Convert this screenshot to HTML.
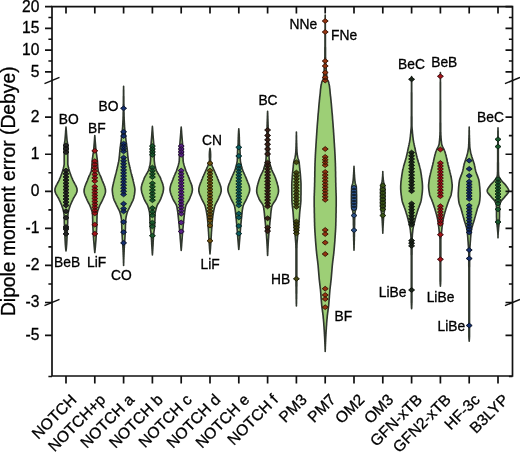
<!DOCTYPE html><html><head><meta charset="utf-8"><style>html,body{margin:0;padding:0;background:#fff;}svg{display:block}</style></head><body><svg width="520" height="452" viewBox="0 0 520 452">
<rect width="520" height="452" fill="#fff"/>
<path d="M66.0,127.0 66.0,127.6 66.1,128.2 66.1,128.8 66.2,129.4 66.2,130.0 66.3,130.6 66.3,131.2 66.4,131.8 66.4,132.4 66.4,133.0 66.5,133.6 66.5,134.2 66.6,134.8 66.6,135.4 66.7,136.0 66.7,136.6 66.8,137.2 66.8,137.8 66.9,138.4 66.9,139.0 67.0,139.6 67.0,140.2 67.1,140.8 67.2,141.4 67.3,142.0 67.4,142.6 67.5,143.2 67.6,143.8 67.7,144.4 67.9,145.0 67.9,145.6 68.0,146.2 68.1,146.8 68.1,147.4 68.1,148.0 68.1,148.6 68.1,149.2 68.0,149.8 68.0,150.4 68.0,151.0 68.0,151.6 67.9,152.2 67.9,152.8 67.9,153.4 67.8,154.0 67.8,154.6 67.8,155.2 67.8,155.8 67.8,156.4 67.8,157.0 67.8,157.6 67.8,158.2 67.8,158.8 67.8,159.4 67.8,160.0 67.8,160.6 67.8,161.2 67.8,161.8 67.8,162.4 67.8,163.0 67.8,163.6 67.8,164.2 67.9,164.8 68.0,165.4 68.1,166.0 68.2,166.6 68.4,167.2 68.5,167.8 68.7,168.4 68.8,169.0 69.0,169.6 69.2,170.2 69.3,170.8 69.5,171.4 69.7,172.0 69.9,172.6 70.1,173.2 70.3,173.8 70.5,174.4 70.8,175.0 71.0,175.6 71.3,176.2 71.5,176.8 71.8,177.4 72.0,178.0 72.3,178.6 72.5,179.2 72.7,179.8 73.0,180.4 73.3,181.0 73.6,181.6 73.9,182.2 74.2,182.8 74.6,183.4 74.9,184.0 75.2,184.6 75.6,185.2 75.9,185.8 76.1,186.4 76.4,187.0 76.6,187.6 76.8,188.2 77.0,188.8 77.0,189.4 77.1,190.0 77.1,190.6 77.0,191.2 76.9,191.8 76.7,192.4 76.4,193.0 76.2,193.6 75.9,194.2 75.5,194.8 75.2,195.4 74.8,196.0 74.5,196.6 74.1,197.2 73.8,197.8 73.4,198.4 73.1,199.0 72.9,199.6 72.6,200.2 72.3,200.8 72.0,201.4 71.7,202.0 71.5,202.6 71.2,203.2 70.9,203.8 70.7,204.4 70.4,205.0 70.2,205.6 70.0,206.2 69.8,206.8 69.6,207.4 69.4,208.0 69.2,208.6 69.0,209.2 68.9,209.8 68.7,210.4 68.6,211.0 68.4,211.6 68.3,212.2 68.2,212.8 68.1,213.4 68.0,214.0 67.9,214.6 67.9,215.2 67.9,215.8 67.8,216.4 67.8,217.0 67.8,217.6 67.8,218.2 67.8,218.8 67.7,219.4 67.7,220.0 67.7,220.6 67.7,221.2 67.7,221.8 67.7,222.4 67.7,223.0 67.6,223.6 67.6,224.2 67.6,224.8 67.6,225.4 67.6,226.0 67.5,226.6 67.5,227.2 67.5,227.8 67.4,228.4 67.4,229.0 67.4,229.6 67.4,230.2 67.3,230.8 67.3,231.4 67.3,232.0 67.2,232.6 67.2,233.2 67.2,233.8 67.1,234.4 67.1,235.0 67.1,235.6 67.0,236.2 67.0,236.8 67.0,237.4 67.0,238.0 66.9,238.6 66.9,239.2 66.9,239.8 66.9,240.4 66.8,241.0 66.8,241.6 66.8,242.2 66.7,242.8 66.7,243.4 66.7,244.0 66.6,244.6 66.6,245.2 66.5,245.8 66.5,246.4 66.4,247.0 66.4,247.6 66.3,248.2 66.3,248.8 66.2,249.4 66.1,250.0 66.0,250.6 66.0,251.0 L66.0,251.0 66.0,250.6 65.9,250.0 65.8,249.4 65.7,248.8 65.7,248.2 65.6,247.6 65.6,247.0 65.5,246.4 65.5,245.8 65.4,245.2 65.4,244.6 65.3,244.0 65.3,243.4 65.3,242.8 65.2,242.2 65.2,241.6 65.2,241.0 65.1,240.4 65.1,239.8 65.1,239.2 65.1,238.6 65.0,238.0 65.0,237.4 65.0,236.8 65.0,236.2 64.9,235.6 64.9,235.0 64.9,234.4 64.8,233.8 64.8,233.2 64.8,232.6 64.7,232.0 64.7,231.4 64.7,230.8 64.6,230.2 64.6,229.6 64.6,229.0 64.6,228.4 64.5,227.8 64.5,227.2 64.5,226.6 64.4,226.0 64.4,225.4 64.4,224.8 64.4,224.2 64.4,223.6 64.3,223.0 64.3,222.4 64.3,221.8 64.3,221.2 64.3,220.6 64.3,220.0 64.3,219.4 64.2,218.8 64.2,218.2 64.2,217.6 64.2,217.0 64.2,216.4 64.1,215.8 64.1,215.2 64.1,214.6 64.0,214.0 63.9,213.4 63.8,212.8 63.7,212.2 63.6,211.6 63.4,211.0 63.3,210.4 63.1,209.8 63.0,209.2 62.8,208.6 62.6,208.0 62.4,207.4 62.2,206.8 62.0,206.2 61.8,205.6 61.6,205.0 61.3,204.4 61.1,203.8 60.8,203.2 60.5,202.6 60.3,202.0 60.0,201.4 59.7,200.8 59.4,200.2 59.1,199.6 58.9,199.0 58.6,198.4 58.2,197.8 57.9,197.2 57.5,196.6 57.2,196.0 56.8,195.4 56.5,194.8 56.1,194.2 55.8,193.6 55.6,193.0 55.3,192.4 55.1,191.8 55.0,191.2 54.9,190.6 54.9,190.0 55.0,189.4 55.0,188.8 55.2,188.2 55.4,187.6 55.6,187.0 55.9,186.4 56.1,185.8 56.4,185.2 56.8,184.6 57.1,184.0 57.4,183.4 57.8,182.8 58.1,182.2 58.4,181.6 58.7,181.0 59.0,180.4 59.3,179.8 59.5,179.2 59.7,178.6 60.0,178.0 60.2,177.4 60.5,176.8 60.7,176.2 61.0,175.6 61.2,175.0 61.5,174.4 61.7,173.8 61.9,173.2 62.1,172.6 62.3,172.0 62.5,171.4 62.7,170.8 62.8,170.2 63.0,169.6 63.2,169.0 63.3,168.4 63.5,167.8 63.6,167.2 63.8,166.6 63.9,166.0 64.0,165.4 64.1,164.8 64.2,164.2 64.2,163.6 64.2,163.0 64.2,162.4 64.2,161.8 64.2,161.2 64.2,160.6 64.2,160.0 64.2,159.4 64.2,158.8 64.2,158.2 64.2,157.6 64.2,157.0 64.2,156.4 64.2,155.8 64.2,155.2 64.2,154.6 64.2,154.0 64.1,153.4 64.1,152.8 64.1,152.2 64.0,151.6 64.0,151.0 64.0,150.4 64.0,149.8 63.9,149.2 63.9,148.6 63.9,148.0 63.9,147.4 63.9,146.8 64.0,146.2 64.1,145.6 64.1,145.0 64.3,144.4 64.4,143.8 64.5,143.2 64.6,142.6 64.7,142.0 64.8,141.4 64.9,140.8 65.0,140.2 65.0,139.6 65.1,139.0 65.1,138.4 65.2,137.8 65.2,137.2 65.3,136.6 65.3,136.0 65.4,135.4 65.4,134.8 65.5,134.2 65.5,133.6 65.6,133.0 65.6,132.4 65.6,131.8 65.7,131.2 65.7,130.6 65.8,130.0 65.8,129.4 65.9,128.8 65.9,128.2 66.0,127.6 66.0,127.0Z" fill="#9dcf76" stroke="#30372e" stroke-width="1.65" stroke-linejoin="round"/>
<path d="M66.0,142.9L69.0,145.3L66.0,147.7L63.0,145.3ZM66.0,146.3L69.0,148.8L66.0,151.2L63.0,148.8ZM66.0,149.8L69.0,152.2L66.0,154.6L63.0,152.2ZM66.0,168.2L69.0,170.6L66.0,173.0L63.0,170.6ZM66.0,171.4L69.0,173.8L66.0,176.2L63.0,173.8ZM66.0,174.5L69.0,176.9L66.0,179.3L63.0,176.9ZM66.0,177.7L69.0,180.1L66.0,182.5L63.0,180.1ZM66.0,180.9L69.0,183.3L66.0,185.7L63.0,183.3ZM66.0,184.0L69.0,186.4L66.0,188.8L63.0,186.4ZM66.0,187.2L69.0,189.6L66.0,192.0L63.0,189.6ZM66.0,190.3L69.0,192.7L66.0,195.1L63.0,192.7ZM66.0,193.5L69.0,195.9L66.0,198.3L63.0,195.9ZM66.0,196.7L69.0,199.1L66.0,201.5L63.0,199.1ZM66.0,199.8L69.0,202.2L66.0,204.6L63.0,202.2ZM66.0,203.0L69.0,205.4L66.0,207.8L63.0,205.4ZM66.0,208.8L69.0,211.2L66.0,213.7L63.0,211.2ZM66.0,215.3L69.0,217.7L66.0,220.1L63.0,217.7ZM66.0,224.6L69.0,227.0L66.0,229.4L63.0,227.0ZM66.0,226.6L69.0,229.0L66.0,231.4L63.0,229.0ZM66.0,231.5L69.0,233.9L66.0,236.3L63.0,233.9Z" fill="#262626" stroke="#0d0d0d" stroke-width="0.9" stroke-linejoin="miter"/>
<path d="M94.8,135.5 94.8,136.1 94.9,136.7 94.9,137.3 95.0,137.9 95.0,138.5 95.0,139.1 95.1,139.7 95.1,140.3 95.2,140.9 95.2,141.5 95.3,142.1 95.3,142.7 95.4,143.3 95.4,143.9 95.5,144.5 95.5,145.1 95.6,145.7 95.6,146.3 95.7,146.9 95.7,147.5 95.8,148.1 95.8,148.7 95.9,149.3 96.0,149.9 96.0,150.5 96.1,151.1 96.2,151.7 96.2,152.3 96.3,152.9 96.4,153.5 96.5,154.1 96.6,154.7 96.7,155.3 96.8,155.9 96.8,156.5 96.9,157.1 97.0,157.7 97.1,158.3 97.2,158.9 97.2,159.5 97.3,160.1 97.4,160.7 97.4,161.3 97.5,161.9 97.5,162.5 97.5,163.1 97.6,163.7 97.6,164.3 97.6,164.9 97.7,165.5 97.7,166.1 97.7,166.7 97.8,167.3 97.8,167.9 97.9,168.5 98.0,169.1 98.1,169.7 98.2,170.3 98.3,170.9 98.5,171.5 98.7,172.1 99.0,172.7 99.2,173.3 99.5,173.9 99.7,174.5 100.0,175.1 100.3,175.7 100.6,176.3 100.8,176.9 101.1,177.5 101.3,178.1 101.5,178.7 101.8,179.3 102.0,179.9 102.2,180.5 102.5,181.1 102.7,181.7 103.0,182.3 103.2,182.9 103.5,183.5 103.8,184.1 104.0,184.7 104.2,185.3 104.5,185.9 104.7,186.5 104.9,187.1 105.0,187.7 105.2,188.3 105.3,188.9 105.4,189.5 105.5,190.1 105.5,190.7 105.5,191.3 105.5,191.9 105.4,192.5 105.2,193.1 105.1,193.7 104.9,194.3 104.7,194.9 104.5,195.5 104.2,196.1 104.0,196.7 103.7,197.3 103.4,197.9 103.2,198.5 102.9,199.1 102.6,199.7 102.4,200.3 102.1,200.9 101.8,201.5 101.5,202.1 101.2,202.7 100.9,203.3 100.5,203.9 100.2,204.5 99.9,205.1 99.6,205.7 99.4,206.3 99.2,206.9 98.9,207.5 98.7,208.1 98.5,208.7 98.3,209.3 98.0,209.9 97.8,210.5 97.7,211.1 97.5,211.7 97.4,212.3 97.2,212.9 97.2,213.5 97.1,214.1 97.1,214.7 97.0,215.3 97.0,215.9 97.0,216.5 97.0,217.1 97.0,217.7 97.0,218.3 96.9,218.9 96.9,219.5 96.9,220.1 96.9,220.7 96.9,221.3 96.9,221.9 96.9,222.5 96.9,223.1 96.8,223.7 96.8,224.3 96.8,224.9 96.8,225.5 96.8,226.1 96.7,226.7 96.7,227.3 96.7,227.9 96.6,228.5 96.6,229.1 96.6,229.7 96.5,230.3 96.5,230.9 96.5,231.5 96.4,232.1 96.4,232.7 96.4,233.3 96.3,233.9 96.3,234.5 96.2,235.1 96.2,235.7 96.2,236.3 96.1,236.9 96.1,237.5 96.0,238.1 96.0,238.7 96.0,239.3 95.9,239.9 95.9,240.5 95.8,241.1 95.8,241.7 95.7,242.3 95.7,242.9 95.6,243.5 95.6,244.1 95.5,244.7 95.5,245.3 95.4,245.9 95.4,246.5 95.3,247.1 95.3,247.7 95.2,248.3 95.2,248.9 95.1,249.5 95.0,250.1 95.0,250.7 94.9,251.3 94.9,251.9 94.8,252.5 L94.8,252.5 94.7,251.9 94.7,251.3 94.6,250.7 94.6,250.1 94.5,249.5 94.4,248.9 94.4,248.3 94.3,247.7 94.3,247.1 94.2,246.5 94.2,245.9 94.1,245.3 94.1,244.7 94.0,244.1 94.0,243.5 93.9,242.9 93.9,242.3 93.8,241.7 93.8,241.1 93.7,240.5 93.7,239.9 93.6,239.3 93.6,238.7 93.6,238.1 93.5,237.5 93.5,236.9 93.4,236.3 93.4,235.7 93.4,235.1 93.3,234.5 93.3,233.9 93.2,233.3 93.2,232.7 93.2,232.1 93.1,231.5 93.1,230.9 93.1,230.3 93.0,229.7 93.0,229.1 93.0,228.5 92.9,227.9 92.9,227.3 92.9,226.7 92.8,226.1 92.8,225.5 92.8,224.9 92.8,224.3 92.8,223.7 92.7,223.1 92.7,222.5 92.7,221.9 92.7,221.3 92.7,220.7 92.7,220.1 92.7,219.5 92.7,218.9 92.6,218.3 92.6,217.7 92.6,217.1 92.6,216.5 92.6,215.9 92.6,215.3 92.5,214.7 92.5,214.1 92.4,213.5 92.4,212.9 92.2,212.3 92.1,211.7 91.9,211.1 91.8,210.5 91.6,209.9 91.3,209.3 91.1,208.7 90.9,208.1 90.7,207.5 90.4,206.9 90.2,206.3 90.0,205.7 89.7,205.1 89.4,204.5 89.1,203.9 88.7,203.3 88.4,202.7 88.1,202.1 87.8,201.5 87.5,200.9 87.2,200.3 87.0,199.7 86.7,199.1 86.4,198.5 86.2,197.9 85.9,197.3 85.6,196.7 85.4,196.1 85.1,195.5 84.9,194.9 84.7,194.3 84.5,193.7 84.4,193.1 84.2,192.5 84.1,191.9 84.1,191.3 84.1,190.7 84.1,190.1 84.2,189.5 84.3,188.9 84.4,188.3 84.6,187.7 84.7,187.1 84.9,186.5 85.1,185.9 85.4,185.3 85.6,184.7 85.8,184.1 86.1,183.5 86.4,182.9 86.6,182.3 86.9,181.7 87.1,181.1 87.4,180.5 87.6,179.9 87.8,179.3 88.1,178.7 88.3,178.1 88.5,177.5 88.8,176.9 89.0,176.3 89.3,175.7 89.6,175.1 89.9,174.5 90.1,173.9 90.4,173.3 90.6,172.7 90.9,172.1 91.1,171.5 91.3,170.9 91.4,170.3 91.5,169.7 91.6,169.1 91.7,168.5 91.8,167.9 91.8,167.3 91.9,166.7 91.9,166.1 91.9,165.5 92.0,164.9 92.0,164.3 92.0,163.7 92.1,163.1 92.1,162.5 92.1,161.9 92.2,161.3 92.2,160.7 92.3,160.1 92.4,159.5 92.4,158.9 92.5,158.3 92.6,157.7 92.7,157.1 92.8,156.5 92.8,155.9 92.9,155.3 93.0,154.7 93.1,154.1 93.2,153.5 93.3,152.9 93.4,152.3 93.4,151.7 93.5,151.1 93.6,150.5 93.6,149.9 93.7,149.3 93.8,148.7 93.8,148.1 93.9,147.5 93.9,146.9 94.0,146.3 94.0,145.7 94.1,145.1 94.1,144.5 94.2,143.9 94.2,143.3 94.3,142.7 94.3,142.1 94.4,141.5 94.4,140.9 94.5,140.3 94.5,139.7 94.6,139.1 94.6,138.5 94.6,137.9 94.7,137.3 94.7,136.7 94.8,136.1 94.8,135.5Z" fill="#9dcf76" stroke="#30372e" stroke-width="1.65" stroke-linejoin="round"/>
<path d="M94.8,148.4L97.8,150.8L94.8,153.2L91.8,150.8ZM94.8,158.8L97.8,161.2L94.8,163.6L91.8,161.2ZM94.8,162.1L97.8,164.5L94.8,166.9L91.8,164.5ZM94.8,165.4L97.8,167.8L94.8,170.2L91.8,167.8ZM94.8,168.7L97.8,171.1L94.8,173.5L91.8,171.1ZM94.8,172.1L97.8,174.5L94.8,176.9L91.8,174.5ZM94.8,175.4L97.8,177.8L94.8,180.2L91.8,177.8ZM94.8,178.7L97.8,181.1L94.8,183.5L91.8,181.1ZM94.8,184.2L97.8,186.6L94.8,189.0L91.8,186.6ZM94.8,187.2L97.8,189.6L94.8,192.0L91.8,189.6ZM94.8,190.2L97.8,192.6L94.8,195.0L91.8,192.6ZM94.8,193.1L97.8,195.5L94.8,197.9L91.8,195.5ZM94.8,196.1L97.8,198.5L94.8,200.9L91.8,198.5ZM94.8,199.1L97.8,201.5L94.8,203.9L91.8,201.5ZM94.8,202.1L97.8,204.5L94.8,206.9L91.8,204.5ZM94.8,205.0L97.8,207.4L94.8,209.8L91.8,207.4ZM94.8,208.0L97.8,210.4L94.8,212.8L91.8,210.4ZM94.8,211.0L97.8,213.4L94.8,215.8L91.8,213.4ZM94.8,222.2L97.8,224.7L94.8,227.1L91.8,224.7ZM94.8,231.3L97.8,233.8L94.8,236.2L91.8,233.8Z" fill="#a3141a" stroke="#390709" stroke-width="0.9" stroke-linejoin="miter"/>
<path d="M123.6,86.3 123.6,86.9 123.6,87.5 123.6,88.1 123.6,88.7 123.6,89.3 123.7,89.9 123.7,90.5 123.7,91.1 123.7,91.7 123.7,92.3 123.7,92.9 123.7,93.5 123.7,94.1 123.7,94.7 123.7,95.3 123.7,95.9 123.8,96.5 123.8,97.1 123.8,97.7 123.8,98.3 123.8,98.9 123.8,99.5 123.8,100.1 123.8,100.7 123.8,101.3 123.8,101.9 123.8,102.5 123.8,103.1 123.8,103.7 123.9,104.3 123.9,104.9 123.9,105.5 123.9,106.1 123.9,106.7 123.9,107.3 123.9,107.9 123.9,108.5 123.9,109.1 123.9,109.7 123.9,110.3 123.9,110.9 123.9,111.5 123.9,112.1 124.0,112.7 124.0,113.3 124.0,113.9 124.0,114.5 124.0,115.1 124.0,115.7 124.0,116.3 124.1,116.9 124.1,117.5 124.1,118.1 124.1,118.7 124.1,119.3 124.2,119.9 124.2,120.5 124.2,121.1 124.3,121.7 124.3,122.3 124.3,122.9 124.4,123.5 124.4,124.1 124.4,124.7 124.5,125.3 124.5,125.9 124.5,126.5 124.6,127.1 124.6,127.7 124.7,128.3 124.7,128.9 124.8,129.5 124.8,130.1 124.9,130.7 124.9,131.3 125.0,131.9 125.1,132.5 125.1,133.1 125.2,133.7 125.3,134.3 125.3,134.9 125.4,135.5 125.5,136.1 125.6,136.7 125.6,137.3 125.7,137.9 125.8,138.5 125.8,139.1 125.9,139.7 126.0,140.3 126.1,140.9 126.1,141.5 126.2,142.1 126.3,142.7 126.4,143.3 126.5,143.9 126.6,144.5 126.6,145.1 126.7,145.7 126.8,146.3 126.9,146.9 127.0,147.5 127.1,148.1 127.1,148.7 127.2,149.3 127.3,149.9 127.3,150.5 127.4,151.1 127.4,151.7 127.5,152.3 127.5,152.9 127.6,153.5 127.6,154.1 127.7,154.7 127.7,155.3 127.8,155.9 127.9,156.5 127.9,157.1 128.0,157.7 128.1,158.3 128.1,158.9 128.2,159.5 128.3,160.1 128.4,160.7 128.5,161.3 128.6,161.9 128.8,162.5 128.9,163.1 129.0,163.7 129.1,164.3 129.3,164.9 129.4,165.5 129.5,166.1 129.7,166.7 129.8,167.3 130.0,167.9 130.1,168.5 130.3,169.1 130.4,169.7 130.5,170.3 130.7,170.9 130.8,171.5 131.0,172.1 131.1,172.7 131.3,173.3 131.4,173.9 131.6,174.5 131.7,175.1 131.9,175.7 132.0,176.3 132.2,176.9 132.4,177.5 132.5,178.1 132.7,178.7 132.8,179.3 133.0,179.9 133.1,180.5 133.3,181.1 133.4,181.7 133.6,182.3 133.7,182.9 133.8,183.5 134.0,184.1 134.1,184.7 134.2,185.3 134.4,185.9 134.5,186.5 134.6,187.1 134.7,187.7 134.8,188.3 134.9,188.9 134.9,189.5 134.9,190.1 134.9,190.7 134.8,191.3 134.8,191.9 134.7,192.5 134.6,193.1 134.6,193.7 134.5,194.3 134.4,194.9 134.2,195.5 134.1,196.1 134.0,196.7 133.9,197.3 133.8,197.9 133.6,198.5 133.4,199.1 133.2,199.7 133.0,200.3 132.7,200.9 132.4,201.5 132.1,202.1 131.8,202.7 131.5,203.3 131.2,203.9 131.0,204.5 130.7,205.1 130.4,205.7 130.1,206.3 129.8,206.9 129.5,207.5 129.2,208.1 128.9,208.7 128.6,209.3 128.3,209.9 128.0,210.5 127.7,211.1 127.5,211.7 127.3,212.3 127.1,212.9 126.9,213.5 126.8,214.1 126.6,214.7 126.5,215.3 126.3,215.9 126.2,216.5 126.1,217.1 126.0,217.7 125.9,218.3 125.8,218.9 125.7,219.5 125.7,220.1 125.6,220.7 125.6,221.3 125.6,221.9 125.5,222.5 125.5,223.1 125.5,223.7 125.5,224.3 125.5,224.9 125.4,225.5 125.4,226.1 125.4,226.7 125.4,227.3 125.4,227.9 125.4,228.5 125.3,229.1 125.3,229.7 125.3,230.3 125.3,230.9 125.2,231.5 125.2,232.1 125.2,232.7 125.2,233.3 125.1,233.9 125.1,234.5 125.1,235.1 125.0,235.7 125.0,236.3 125.0,236.9 124.9,237.5 124.9,238.1 124.9,238.7 124.8,239.3 124.8,239.9 124.7,240.5 124.7,241.1 124.7,241.7 124.6,242.3 124.6,242.9 124.5,243.5 124.5,244.1 124.5,244.7 124.4,245.3 124.4,245.9 124.3,246.5 124.3,247.1 124.3,247.7 124.2,248.3 124.2,248.9 124.2,249.5 124.1,250.1 124.1,250.7 124.1,251.3 124.1,251.9 124.0,252.5 124.0,253.1 124.0,253.7 124.0,254.3 123.9,254.9 123.9,255.5 123.9,256.1 123.9,256.7 123.8,257.3 123.8,257.9 123.8,258.5 123.8,259.1 123.7,259.7 123.7,260.3 123.7,260.9 123.7,261.5 123.7,262.1 123.7,262.7 123.6,263.3 123.6,263.9 123.6,264.5 123.6,265.1 123.6,265.5 L123.6,265.5 123.6,265.1 123.6,264.5 123.6,263.9 123.6,263.3 123.5,262.7 123.5,262.1 123.5,261.5 123.5,260.9 123.5,260.3 123.5,259.7 123.4,259.1 123.4,258.5 123.4,257.9 123.4,257.3 123.3,256.7 123.3,256.1 123.3,255.5 123.3,254.9 123.2,254.3 123.2,253.7 123.2,253.1 123.2,252.5 123.1,251.9 123.1,251.3 123.1,250.7 123.1,250.1 123.0,249.5 123.0,248.9 123.0,248.3 122.9,247.7 122.9,247.1 122.9,246.5 122.8,245.9 122.8,245.3 122.7,244.7 122.7,244.1 122.7,243.5 122.6,242.9 122.6,242.3 122.5,241.7 122.5,241.1 122.5,240.5 122.4,239.9 122.4,239.3 122.3,238.7 122.3,238.1 122.3,237.5 122.2,236.9 122.2,236.3 122.2,235.7 122.1,235.1 122.1,234.5 122.1,233.9 122.0,233.3 122.0,232.7 122.0,232.1 122.0,231.5 121.9,230.9 121.9,230.3 121.9,229.7 121.9,229.1 121.8,228.5 121.8,227.9 121.8,227.3 121.8,226.7 121.8,226.1 121.8,225.5 121.7,224.9 121.7,224.3 121.7,223.7 121.7,223.1 121.7,222.5 121.6,221.9 121.6,221.3 121.6,220.7 121.5,220.1 121.5,219.5 121.4,218.9 121.3,218.3 121.2,217.7 121.1,217.1 121.0,216.5 120.9,215.9 120.7,215.3 120.6,214.7 120.4,214.1 120.3,213.5 120.1,212.9 119.9,212.3 119.7,211.7 119.5,211.1 119.2,210.5 118.9,209.9 118.6,209.3 118.3,208.7 118.0,208.1 117.7,207.5 117.4,206.9 117.1,206.3 116.8,205.7 116.5,205.1 116.2,204.5 116.0,203.9 115.7,203.3 115.4,202.7 115.1,202.1 114.8,201.5 114.5,200.9 114.2,200.3 114.0,199.7 113.8,199.1 113.6,198.5 113.4,197.9 113.3,197.3 113.2,196.7 113.1,196.1 113.0,195.5 112.8,194.9 112.7,194.3 112.6,193.7 112.6,193.1 112.5,192.5 112.4,191.9 112.4,191.3 112.3,190.7 112.3,190.1 112.3,189.5 112.3,188.9 112.4,188.3 112.5,187.7 112.6,187.1 112.7,186.5 112.8,185.9 113.0,185.3 113.1,184.7 113.2,184.1 113.4,183.5 113.5,182.9 113.6,182.3 113.8,181.7 113.9,181.1 114.1,180.5 114.2,179.9 114.4,179.3 114.5,178.7 114.7,178.1 114.8,177.5 115.0,176.9 115.2,176.3 115.3,175.7 115.5,175.1 115.6,174.5 115.8,173.9 115.9,173.3 116.1,172.7 116.2,172.1 116.4,171.5 116.5,170.9 116.7,170.3 116.8,169.7 116.9,169.1 117.1,168.5 117.2,167.9 117.4,167.3 117.5,166.7 117.7,166.1 117.8,165.5 117.9,164.9 118.1,164.3 118.2,163.7 118.3,163.1 118.4,162.5 118.6,161.9 118.7,161.3 118.8,160.7 118.9,160.1 119.0,159.5 119.1,158.9 119.1,158.3 119.2,157.7 119.3,157.1 119.3,156.5 119.4,155.9 119.5,155.3 119.5,154.7 119.6,154.1 119.6,153.5 119.7,152.9 119.7,152.3 119.8,151.7 119.8,151.1 119.9,150.5 119.9,149.9 120.0,149.3 120.1,148.7 120.1,148.1 120.2,147.5 120.3,146.9 120.4,146.3 120.5,145.7 120.6,145.1 120.6,144.5 120.7,143.9 120.8,143.3 120.9,142.7 121.0,142.1 121.1,141.5 121.1,140.9 121.2,140.3 121.3,139.7 121.4,139.1 121.4,138.5 121.5,137.9 121.6,137.3 121.6,136.7 121.7,136.1 121.8,135.5 121.9,134.9 121.9,134.3 122.0,133.7 122.1,133.1 122.1,132.5 122.2,131.9 122.3,131.3 122.3,130.7 122.4,130.1 122.4,129.5 122.5,128.9 122.5,128.3 122.6,127.7 122.6,127.1 122.7,126.5 122.7,125.9 122.7,125.3 122.8,124.7 122.8,124.1 122.8,123.5 122.9,122.9 122.9,122.3 122.9,121.7 123.0,121.1 123.0,120.5 123.0,119.9 123.1,119.3 123.1,118.7 123.1,118.1 123.1,117.5 123.1,116.9 123.2,116.3 123.2,115.7 123.2,115.1 123.2,114.5 123.2,113.9 123.2,113.3 123.2,112.7 123.3,112.1 123.3,111.5 123.3,110.9 123.3,110.3 123.3,109.7 123.3,109.1 123.3,108.5 123.3,107.9 123.3,107.3 123.3,106.7 123.3,106.1 123.3,105.5 123.3,104.9 123.3,104.3 123.4,103.7 123.4,103.1 123.4,102.5 123.4,101.9 123.4,101.3 123.4,100.7 123.4,100.1 123.4,99.5 123.4,98.9 123.4,98.3 123.4,97.7 123.4,97.1 123.4,96.5 123.5,95.9 123.5,95.3 123.5,94.7 123.5,94.1 123.5,93.5 123.5,92.9 123.5,92.3 123.5,91.7 123.5,91.1 123.5,90.5 123.5,89.9 123.6,89.3 123.6,88.7 123.6,88.1 123.6,87.5 123.6,86.9 123.6,86.3Z" fill="#9dcf76" stroke="#30372e" stroke-width="1.65" stroke-linejoin="round"/>
<path d="M123.6,105.9L126.6,108.3L123.6,110.7L120.6,108.3ZM123.6,129.4L126.6,131.8L123.6,134.2L120.6,131.8ZM123.6,133.6L126.6,136.0L123.6,138.4L120.6,136.0ZM123.6,141.2L126.6,143.6L123.6,146.0L120.6,143.6ZM123.6,143.8L126.6,146.2L123.6,148.6L120.6,146.2ZM123.6,146.4L126.6,148.8L123.6,151.2L120.6,148.8ZM123.6,149.0L126.6,151.4L123.6,153.8L120.6,151.4ZM123.6,155.2L126.6,157.6L123.6,160.0L120.6,157.6ZM123.6,158.3L126.6,160.7L123.6,163.1L120.6,160.7ZM123.6,161.3L126.6,163.7L123.6,166.1L120.6,163.7ZM123.6,164.4L126.6,166.8L123.6,169.2L120.6,166.8ZM123.6,167.5L126.6,169.9L123.6,172.3L120.6,169.9ZM123.6,170.5L126.6,172.9L123.6,175.3L120.6,172.9ZM123.6,173.6L126.6,176.0L123.6,178.4L120.6,176.0ZM123.6,176.7L126.6,179.1L123.6,181.5L120.6,179.1ZM123.6,179.7L126.6,182.1L123.6,184.5L120.6,182.1ZM123.6,182.8L126.6,185.2L123.6,187.6L120.6,185.2ZM123.6,185.9L126.6,188.3L123.6,190.7L120.6,188.3ZM123.6,188.9L126.6,191.3L123.6,193.7L120.6,191.3ZM123.6,192.0L126.6,194.4L123.6,196.8L120.6,194.4ZM123.6,201.3L126.6,203.8L123.6,206.2L120.6,203.8ZM123.6,206.2L126.6,208.6L123.6,211.0L120.6,208.6ZM123.6,209.0L126.6,211.4L123.6,213.8L120.6,211.4ZM123.6,219.6L126.6,222.0L123.6,224.4L120.6,222.0ZM123.6,229.8L126.6,232.2L123.6,234.6L120.6,232.2ZM123.6,240.5L126.6,242.9L123.6,245.3L120.6,242.9Z" fill="#16306e" stroke="#071026" stroke-width="0.9" stroke-linejoin="miter"/>
<path d="M152.4,126.4 152.4,127.0 152.5,127.6 152.5,128.2 152.6,128.8 152.6,129.4 152.6,130.0 152.7,130.6 152.7,131.2 152.8,131.8 152.8,132.4 152.9,133.0 152.9,133.6 152.9,134.2 153.0,134.8 153.0,135.4 153.1,136.0 153.1,136.6 153.2,137.2 153.2,137.8 153.3,138.4 153.3,139.0 153.4,139.6 153.4,140.2 153.5,140.8 153.5,141.4 153.6,142.0 153.6,142.6 153.7,143.2 153.7,143.8 153.8,144.4 153.8,145.0 153.9,145.6 153.9,146.2 153.9,146.8 154.0,147.4 154.0,148.0 154.0,148.6 154.1,149.2 154.1,149.8 154.1,150.4 154.1,151.0 154.1,151.6 154.1,152.2 154.1,152.8 154.2,153.4 154.2,154.0 154.2,154.6 154.2,155.2 154.2,155.8 154.2,156.4 154.2,157.0 154.2,157.6 154.2,158.2 154.2,158.8 154.2,159.4 154.2,160.0 154.3,160.6 154.3,161.2 154.4,161.8 154.5,162.4 154.5,163.0 154.6,163.6 154.7,164.2 154.9,164.8 155.0,165.4 155.1,166.0 155.3,166.6 155.4,167.2 155.6,167.8 155.8,168.4 155.9,169.0 156.1,169.6 156.3,170.2 156.5,170.8 156.8,171.4 157.1,172.0 157.5,172.6 157.8,173.2 158.2,173.8 158.5,174.4 158.9,175.0 159.2,175.6 159.6,176.2 159.9,176.8 160.2,177.4 160.5,178.0 160.7,178.6 160.9,179.2 161.1,179.8 161.4,180.4 161.6,181.0 161.8,181.6 162.1,182.2 162.3,182.8 162.5,183.4 162.7,184.0 162.9,184.6 163.0,185.2 163.2,185.8 163.3,186.4 163.4,187.0 163.5,187.6 163.5,188.2 163.5,188.8 163.5,189.4 163.4,190.0 163.3,190.6 163.2,191.2 163.1,191.8 163.0,192.4 162.8,193.0 162.6,193.6 162.4,194.2 162.2,194.8 162.0,195.4 161.8,196.0 161.6,196.6 161.3,197.2 161.1,197.8 160.9,198.4 160.7,199.0 160.4,199.6 160.1,200.2 159.8,200.8 159.5,201.4 159.1,202.0 158.8,202.6 158.4,203.2 158.0,203.8 157.7,204.4 157.4,205.0 157.1,205.6 156.9,206.2 156.7,206.8 156.5,207.4 156.3,208.0 156.2,208.6 156.0,209.2 155.9,209.8 155.7,210.4 155.6,211.0 155.4,211.6 155.3,212.2 155.2,212.8 155.2,213.4 155.1,214.0 155.1,214.6 155.0,215.2 155.0,215.8 155.0,216.4 155.0,217.0 154.9,217.6 154.9,218.2 154.9,218.8 154.9,219.4 154.9,220.0 154.9,220.6 154.8,221.2 154.8,221.8 154.8,222.4 154.8,223.0 154.8,223.6 154.7,224.2 154.7,224.8 154.7,225.4 154.6,226.0 154.6,226.6 154.5,227.2 154.5,227.8 154.4,228.4 154.3,229.0 154.2,229.6 154.2,230.2 154.1,230.8 154.0,231.4 153.9,232.0 153.9,232.6 153.8,233.2 153.7,233.8 153.6,234.4 153.6,235.0 153.5,235.6 153.5,236.2 153.4,236.8 153.4,237.4 153.4,238.0 153.3,238.6 153.3,239.2 153.3,239.8 153.2,240.4 153.2,241.0 153.2,241.6 153.1,242.2 153.1,242.8 153.1,243.4 153.1,244.0 153.0,244.6 153.0,245.2 153.0,245.8 152.9,246.4 152.9,247.0 152.8,247.6 152.8,248.2 152.8,248.8 152.7,249.4 152.7,250.0 152.7,250.6 152.6,251.2 152.6,251.8 152.6,252.4 152.5,253.0 152.5,253.6 152.4,254.2 152.4,254.8 152.4,255.0 L152.4,255.0 152.4,254.8 152.4,254.2 152.3,253.6 152.3,253.0 152.2,252.4 152.2,251.8 152.2,251.2 152.1,250.6 152.1,250.0 152.1,249.4 152.0,248.8 152.0,248.2 152.0,247.6 151.9,247.0 151.9,246.4 151.8,245.8 151.8,245.2 151.8,244.6 151.7,244.0 151.7,243.4 151.7,242.8 151.7,242.2 151.6,241.6 151.6,241.0 151.6,240.4 151.5,239.8 151.5,239.2 151.5,238.6 151.4,238.0 151.4,237.4 151.4,236.8 151.3,236.2 151.3,235.6 151.2,235.0 151.2,234.4 151.1,233.8 151.0,233.2 150.9,232.6 150.9,232.0 150.8,231.4 150.7,230.8 150.6,230.2 150.6,229.6 150.5,229.0 150.4,228.4 150.3,227.8 150.3,227.2 150.2,226.6 150.2,226.0 150.1,225.4 150.1,224.8 150.1,224.2 150.0,223.6 150.0,223.0 150.0,222.4 150.0,221.8 150.0,221.2 149.9,220.6 149.9,220.0 149.9,219.4 149.9,218.8 149.9,218.2 149.9,217.6 149.8,217.0 149.8,216.4 149.8,215.8 149.8,215.2 149.7,214.6 149.7,214.0 149.6,213.4 149.6,212.8 149.5,212.2 149.4,211.6 149.2,211.0 149.1,210.4 148.9,209.8 148.8,209.2 148.6,208.6 148.5,208.0 148.3,207.4 148.1,206.8 147.9,206.2 147.7,205.6 147.4,205.0 147.1,204.4 146.8,203.8 146.4,203.2 146.0,202.6 145.7,202.0 145.3,201.4 145.0,200.8 144.7,200.2 144.4,199.6 144.1,199.0 143.9,198.4 143.7,197.8 143.5,197.2 143.2,196.6 143.0,196.0 142.8,195.4 142.6,194.8 142.4,194.2 142.2,193.6 142.0,193.0 141.8,192.4 141.7,191.8 141.6,191.2 141.5,190.6 141.4,190.0 141.3,189.4 141.3,188.8 141.3,188.2 141.3,187.6 141.4,187.0 141.5,186.4 141.6,185.8 141.8,185.2 141.9,184.6 142.1,184.0 142.3,183.4 142.5,182.8 142.7,182.2 143.0,181.6 143.2,181.0 143.4,180.4 143.7,179.8 143.9,179.2 144.1,178.6 144.3,178.0 144.6,177.4 144.9,176.8 145.2,176.2 145.6,175.6 145.9,175.0 146.3,174.4 146.6,173.8 147.0,173.2 147.3,172.6 147.7,172.0 148.0,171.4 148.3,170.8 148.5,170.2 148.7,169.6 148.9,169.0 149.0,168.4 149.2,167.8 149.4,167.2 149.5,166.6 149.7,166.0 149.8,165.4 149.9,164.8 150.1,164.2 150.2,163.6 150.3,163.0 150.3,162.4 150.4,161.8 150.5,161.2 150.5,160.6 150.6,160.0 150.6,159.4 150.6,158.8 150.6,158.2 150.6,157.6 150.6,157.0 150.6,156.4 150.6,155.8 150.6,155.2 150.6,154.6 150.6,154.0 150.6,153.4 150.7,152.8 150.7,152.2 150.7,151.6 150.7,151.0 150.7,150.4 150.7,149.8 150.7,149.2 150.8,148.6 150.8,148.0 150.8,147.4 150.9,146.8 150.9,146.2 150.9,145.6 151.0,145.0 151.0,144.4 151.1,143.8 151.1,143.2 151.2,142.6 151.2,142.0 151.3,141.4 151.3,140.8 151.4,140.2 151.4,139.6 151.5,139.0 151.5,138.4 151.6,137.8 151.6,137.2 151.7,136.6 151.7,136.0 151.8,135.4 151.8,134.8 151.9,134.2 151.9,133.6 151.9,133.0 152.0,132.4 152.0,131.8 152.1,131.2 152.1,130.6 152.2,130.0 152.2,129.4 152.2,128.8 152.3,128.2 152.3,127.6 152.4,127.0 152.4,126.4Z" fill="#9dcf76" stroke="#30372e" stroke-width="1.65" stroke-linejoin="round"/>
<path d="M152.4,143.7L155.4,146.1L152.4,148.5L149.4,146.1ZM152.4,146.6L155.4,149.0L152.4,151.4L149.4,149.0ZM152.4,149.5L155.4,151.9L152.4,154.3L149.4,151.9ZM152.4,152.4L155.4,154.8L152.4,157.2L149.4,154.8ZM152.4,165.2L155.4,167.6L152.4,170.0L149.4,167.6ZM152.4,168.3L155.4,170.7L152.4,173.1L149.4,170.7ZM152.4,171.5L155.4,173.9L152.4,176.3L149.4,173.9ZM152.4,174.6L155.4,177.0L152.4,179.4L149.4,177.0ZM152.4,180.9L155.4,183.3L152.4,185.7L149.4,183.3ZM152.4,184.3L155.4,186.7L152.4,189.1L149.4,186.7ZM152.4,187.7L155.4,190.1L152.4,192.5L149.4,190.1ZM152.4,191.0L155.4,193.4L152.4,195.8L149.4,193.4ZM152.4,194.4L155.4,196.8L152.4,199.2L149.4,196.8ZM152.4,197.8L155.4,200.2L152.4,202.6L149.4,200.2ZM152.4,205.7L155.4,208.1L152.4,210.5L149.4,208.1ZM152.4,209.3L155.4,211.8L152.4,214.2L149.4,211.8ZM152.4,213.0L155.4,215.4L152.4,217.8L149.4,215.4ZM152.4,220.2L155.4,222.6L152.4,225.0L149.4,222.6ZM152.4,224.0L155.4,226.4L152.4,228.8L149.4,226.4ZM152.4,233.3L155.4,235.7L152.4,238.1L149.4,235.7Z" fill="#1a5a2e" stroke="#091f10" stroke-width="0.9" stroke-linejoin="miter"/>
<path d="M181.2,127.0 181.2,127.6 181.3,128.2 181.3,128.8 181.4,129.4 181.4,130.0 181.5,130.6 181.5,131.2 181.6,131.8 181.6,132.4 181.6,133.0 181.7,133.6 181.7,134.2 181.8,134.8 181.8,135.4 181.9,136.0 181.9,136.6 182.0,137.2 182.0,137.8 182.1,138.4 182.1,139.0 182.2,139.6 182.2,140.2 182.3,140.8 182.3,141.4 182.4,142.0 182.4,142.6 182.5,143.2 182.5,143.8 182.6,144.4 182.6,145.0 182.7,145.6 182.7,146.2 182.7,146.8 182.8,147.4 182.8,148.0 182.8,148.6 182.9,149.2 182.9,149.8 182.9,150.4 182.9,151.0 182.9,151.6 183.0,152.2 183.0,152.8 183.0,153.4 183.0,154.0 183.0,154.6 183.0,155.2 183.0,155.8 183.0,156.4 183.0,157.0 183.0,157.6 183.0,158.2 183.1,158.8 183.1,159.4 183.1,160.0 183.1,160.6 183.2,161.2 183.3,161.8 183.4,162.4 183.5,163.0 183.7,163.6 183.8,164.2 184.0,164.8 184.2,165.4 184.3,166.0 184.5,166.6 184.7,167.2 184.9,167.8 185.1,168.4 185.3,169.0 185.5,169.6 185.7,170.2 185.9,170.8 186.2,171.4 186.4,172.0 186.7,172.6 186.9,173.2 187.2,173.8 187.5,174.4 187.7,175.0 188.0,175.6 188.3,176.2 188.5,176.8 188.8,177.4 189.0,178.0 189.2,178.6 189.4,179.2 189.6,179.8 189.9,180.4 190.1,181.0 190.3,181.6 190.6,182.2 190.8,182.8 191.0,183.4 191.3,184.0 191.5,184.6 191.7,185.2 191.8,185.8 192.0,186.4 192.1,187.0 192.2,187.6 192.3,188.2 192.4,188.8 192.4,189.4 192.4,190.0 192.3,190.6 192.2,191.2 192.1,191.8 192.0,192.4 191.8,193.0 191.6,193.6 191.4,194.2 191.2,194.8 190.9,195.4 190.7,196.0 190.4,196.6 190.2,197.2 190.0,197.8 189.7,198.4 189.5,199.0 189.2,199.6 188.9,200.2 188.6,200.8 188.2,201.4 187.8,202.0 187.4,202.6 187.1,203.2 186.7,203.8 186.4,204.4 186.1,205.0 185.9,205.6 185.7,206.2 185.5,206.8 185.4,207.4 185.3,208.0 185.2,208.6 185.1,209.2 185.0,209.8 184.9,210.4 184.8,211.0 184.7,211.6 184.6,212.2 184.6,212.8 184.5,213.4 184.4,214.0 184.4,214.6 184.3,215.2 184.2,215.8 184.2,216.4 184.1,217.0 184.0,217.6 184.0,218.2 183.9,218.8 183.8,219.4 183.8,220.0 183.7,220.6 183.6,221.2 183.6,221.8 183.5,222.4 183.5,223.0 183.4,223.6 183.3,224.2 183.3,224.8 183.2,225.4 183.2,226.0 183.1,226.6 183.1,227.2 183.0,227.8 182.9,228.4 182.9,229.0 182.8,229.6 182.8,230.2 182.7,230.8 182.7,231.4 182.6,232.0 182.6,232.6 182.5,233.2 182.5,233.8 182.4,234.4 182.4,235.0 182.3,235.6 182.3,236.2 182.2,236.8 182.2,237.4 182.2,238.0 182.1,238.6 182.1,239.2 182.0,239.8 182.0,240.4 181.9,241.0 181.9,241.6 181.8,242.2 181.8,242.8 181.7,243.4 181.7,244.0 181.6,244.6 181.6,245.2 181.6,245.8 181.5,246.4 181.5,247.0 181.4,247.6 181.4,248.2 181.3,248.8 181.3,249.4 181.2,250.0 181.2,250.5 L181.2,250.5 181.2,250.0 181.1,249.4 181.1,248.8 181.0,248.2 181.0,247.6 180.9,247.0 180.9,246.4 180.8,245.8 180.8,245.2 180.8,244.6 180.7,244.0 180.7,243.4 180.6,242.8 180.6,242.2 180.5,241.6 180.5,241.0 180.4,240.4 180.4,239.8 180.3,239.2 180.3,238.6 180.2,238.0 180.2,237.4 180.2,236.8 180.1,236.2 180.1,235.6 180.0,235.0 180.0,234.4 179.9,233.8 179.9,233.2 179.8,232.6 179.8,232.0 179.7,231.4 179.7,230.8 179.6,230.2 179.6,229.6 179.5,229.0 179.5,228.4 179.4,227.8 179.3,227.2 179.3,226.6 179.2,226.0 179.2,225.4 179.1,224.8 179.1,224.2 179.0,223.6 178.9,223.0 178.9,222.4 178.8,221.8 178.8,221.2 178.7,220.6 178.6,220.0 178.6,219.4 178.5,218.8 178.4,218.2 178.4,217.6 178.3,217.0 178.2,216.4 178.2,215.8 178.1,215.2 178.0,214.6 178.0,214.0 177.9,213.4 177.8,212.8 177.8,212.2 177.7,211.6 177.6,211.0 177.5,210.4 177.4,209.8 177.3,209.2 177.2,208.6 177.1,208.0 177.0,207.4 176.9,206.8 176.7,206.2 176.5,205.6 176.3,205.0 176.0,204.4 175.7,203.8 175.3,203.2 175.0,202.6 174.6,202.0 174.2,201.4 173.8,200.8 173.5,200.2 173.2,199.6 172.9,199.0 172.7,198.4 172.4,197.8 172.2,197.2 172.0,196.6 171.7,196.0 171.5,195.4 171.2,194.8 171.0,194.2 170.8,193.6 170.6,193.0 170.4,192.4 170.3,191.8 170.2,191.2 170.1,190.6 170.0,190.0 170.0,189.4 170.0,188.8 170.1,188.2 170.2,187.6 170.3,187.0 170.4,186.4 170.6,185.8 170.7,185.2 170.9,184.6 171.1,184.0 171.4,183.4 171.6,182.8 171.8,182.2 172.1,181.6 172.3,181.0 172.5,180.4 172.8,179.8 173.0,179.2 173.2,178.6 173.4,178.0 173.6,177.4 173.9,176.8 174.1,176.2 174.4,175.6 174.7,175.0 174.9,174.4 175.2,173.8 175.5,173.2 175.7,172.6 176.0,172.0 176.2,171.4 176.5,170.8 176.7,170.2 176.9,169.6 177.1,169.0 177.3,168.4 177.5,167.8 177.7,167.2 177.9,166.6 178.1,166.0 178.2,165.4 178.4,164.8 178.6,164.2 178.7,163.6 178.9,163.0 179.0,162.4 179.1,161.8 179.2,161.2 179.3,160.6 179.3,160.0 179.3,159.4 179.3,158.8 179.4,158.2 179.4,157.6 179.4,157.0 179.4,156.4 179.4,155.8 179.4,155.2 179.4,154.6 179.4,154.0 179.4,153.4 179.4,152.8 179.4,152.2 179.5,151.6 179.5,151.0 179.5,150.4 179.5,149.8 179.5,149.2 179.6,148.6 179.6,148.0 179.6,147.4 179.7,146.8 179.7,146.2 179.7,145.6 179.8,145.0 179.8,144.4 179.9,143.8 179.9,143.2 180.0,142.6 180.0,142.0 180.1,141.4 180.1,140.8 180.2,140.2 180.2,139.6 180.3,139.0 180.3,138.4 180.4,137.8 180.4,137.2 180.5,136.6 180.5,136.0 180.6,135.4 180.6,134.8 180.7,134.2 180.7,133.6 180.8,133.0 180.8,132.4 180.8,131.8 180.9,131.2 180.9,130.6 181.0,130.0 181.0,129.4 181.1,128.8 181.1,128.2 181.2,127.6 181.2,127.0Z" fill="#9dcf76" stroke="#30372e" stroke-width="1.65" stroke-linejoin="round"/>
<path d="M181.2,143.7L184.2,146.1L181.2,148.5L178.2,146.1ZM181.2,146.6L184.2,149.0L181.2,151.4L178.2,149.0ZM181.2,149.5L184.2,151.9L181.2,154.3L178.2,151.9ZM181.2,152.4L184.2,154.8L181.2,157.2L178.2,154.8ZM181.2,168.2L184.2,170.6L181.2,173.0L178.2,170.6ZM181.2,171.3L184.2,173.7L181.2,176.1L178.2,173.7ZM181.2,174.4L184.2,176.8L181.2,179.2L178.2,176.8ZM181.2,177.5L184.2,179.9L181.2,182.3L178.2,179.9ZM181.2,180.5L184.2,182.9L181.2,185.3L178.2,182.9ZM181.2,183.6L184.2,186.0L181.2,188.4L178.2,186.0ZM181.2,186.7L184.2,189.1L181.2,191.5L178.2,189.1ZM181.2,189.8L184.2,192.2L181.2,194.6L178.2,192.2ZM181.2,192.9L184.2,195.3L181.2,197.7L178.2,195.3ZM181.2,196.0L184.2,198.4L181.2,200.8L178.2,198.4ZM181.2,199.1L184.2,201.5L181.2,203.9L178.2,201.5ZM181.2,202.1L184.2,204.5L181.2,206.9L178.2,204.5ZM181.2,205.2L184.2,207.6L181.2,210.0L178.2,207.6ZM181.2,208.3L184.2,210.7L181.2,213.1L178.2,210.7ZM181.2,211.4L184.2,213.8L181.2,216.2L178.2,213.8ZM181.2,220.1L184.2,222.5L181.2,224.9L178.2,222.5ZM181.2,229.1L184.2,231.5L181.2,233.9L178.2,231.5Z" fill="#5a2288" stroke="#1f0b2f" stroke-width="0.9" stroke-linejoin="miter"/>
<path d="M210.0,148.4 210.1,149.0 210.2,149.6 210.3,150.2 210.3,150.8 210.4,151.4 210.5,152.0 210.5,152.6 210.5,153.2 210.6,153.8 210.6,154.4 210.6,155.0 210.6,155.6 210.6,156.2 210.6,156.8 210.6,157.4 210.5,158.0 210.5,158.6 210.5,159.2 210.5,159.8 210.5,160.4 210.6,161.0 210.7,161.6 210.9,162.2 211.1,162.8 211.3,163.4 211.5,164.0 211.7,164.6 211.9,165.2 212.1,165.8 212.4,166.4 212.6,167.0 212.9,167.6 213.1,168.2 213.4,168.8 213.6,169.4 213.9,170.0 214.2,170.6 214.4,171.2 214.7,171.8 215.0,172.4 215.3,173.0 215.5,173.6 215.8,174.2 216.1,174.8 216.4,175.4 216.6,176.0 216.9,176.6 217.2,177.2 217.4,177.8 217.6,178.4 217.8,179.0 218.1,179.6 218.3,180.2 218.6,180.8 218.8,181.4 219.0,182.0 219.3,182.6 219.5,183.2 219.8,183.8 220.0,184.4 220.2,185.0 220.4,185.6 220.6,186.2 220.7,186.8 220.9,187.4 221.0,188.0 221.1,188.6 221.2,189.2 221.2,189.8 221.2,190.4 221.2,191.0 221.1,191.6 220.9,192.2 220.8,192.8 220.6,193.4 220.4,194.0 220.2,194.6 219.9,195.2 219.6,195.8 219.4,196.4 219.1,197.0 218.9,197.6 218.6,198.2 218.4,198.8 218.1,199.4 217.8,200.0 217.5,200.6 217.2,201.2 216.9,201.8 216.5,202.4 216.2,203.0 215.9,203.6 215.6,204.2 215.3,204.8 215.1,205.4 214.8,206.0 214.7,206.6 214.5,207.2 214.4,207.8 214.2,208.4 214.1,209.0 214.0,209.6 213.8,210.2 213.7,210.8 213.6,211.4 213.5,212.0 213.4,212.6 213.3,213.2 213.2,213.8 213.1,214.4 213.0,215.0 212.9,215.6 212.8,216.2 212.7,216.8 212.7,217.4 212.6,218.0 212.5,218.6 212.5,219.2 212.4,219.8 212.3,220.4 212.3,221.0 212.2,221.6 212.2,222.2 212.1,222.8 212.1,223.4 212.0,224.0 212.0,224.6 211.9,225.2 211.9,225.8 211.8,226.4 211.8,227.0 211.8,227.6 211.7,228.2 211.7,228.8 211.6,229.4 211.6,230.0 211.6,230.6 211.5,231.2 211.5,231.8 211.4,232.4 211.4,233.0 211.4,233.6 211.3,234.2 211.3,234.8 211.3,235.4 211.2,236.0 211.2,236.6 211.2,237.2 211.1,237.8 211.1,238.4 211.1,239.0 211.0,239.6 211.0,240.2 210.9,240.8 210.9,241.4 210.9,242.0 210.8,242.6 210.8,243.2 210.7,243.8 210.7,244.4 210.7,245.0 210.6,245.6 210.6,246.2 210.5,246.8 210.5,247.4 210.5,248.0 210.4,248.6 210.4,249.2 210.3,249.8 210.3,250.4 210.2,251.0 210.2,251.6 210.1,252.2 210.1,252.8 210.0,253.4 210.0,254.0 L210.0,254.0 210.0,253.4 209.9,252.8 209.9,252.2 209.8,251.6 209.8,251.0 209.7,250.4 209.7,249.8 209.6,249.2 209.6,248.6 209.5,248.0 209.5,247.4 209.5,246.8 209.4,246.2 209.4,245.6 209.3,245.0 209.3,244.4 209.3,243.8 209.2,243.2 209.2,242.6 209.1,242.0 209.1,241.4 209.1,240.8 209.0,240.2 209.0,239.6 208.9,239.0 208.9,238.4 208.9,237.8 208.8,237.2 208.8,236.6 208.8,236.0 208.7,235.4 208.7,234.8 208.7,234.2 208.6,233.6 208.6,233.0 208.6,232.4 208.5,231.8 208.5,231.2 208.4,230.6 208.4,230.0 208.4,229.4 208.3,228.8 208.3,228.2 208.2,227.6 208.2,227.0 208.2,226.4 208.1,225.8 208.1,225.2 208.0,224.6 208.0,224.0 207.9,223.4 207.9,222.8 207.8,222.2 207.8,221.6 207.7,221.0 207.7,220.4 207.6,219.8 207.5,219.2 207.5,218.6 207.4,218.0 207.3,217.4 207.3,216.8 207.2,216.2 207.1,215.6 207.0,215.0 206.9,214.4 206.8,213.8 206.7,213.2 206.6,212.6 206.5,212.0 206.4,211.4 206.3,210.8 206.2,210.2 206.0,209.6 205.9,209.0 205.8,208.4 205.6,207.8 205.5,207.2 205.3,206.6 205.2,206.0 204.9,205.4 204.7,204.8 204.4,204.2 204.1,203.6 203.8,203.0 203.5,202.4 203.1,201.8 202.8,201.2 202.5,200.6 202.2,200.0 201.9,199.4 201.6,198.8 201.4,198.2 201.1,197.6 200.9,197.0 200.6,196.4 200.4,195.8 200.1,195.2 199.8,194.6 199.6,194.0 199.4,193.4 199.2,192.8 199.1,192.2 198.9,191.6 198.8,191.0 198.8,190.4 198.8,189.8 198.8,189.2 198.9,188.6 199.0,188.0 199.1,187.4 199.3,186.8 199.4,186.2 199.6,185.6 199.8,185.0 200.0,184.4 200.2,183.8 200.5,183.2 200.7,182.6 201.0,182.0 201.2,181.4 201.4,180.8 201.7,180.2 201.9,179.6 202.2,179.0 202.4,178.4 202.6,177.8 202.8,177.2 203.1,176.6 203.4,176.0 203.6,175.4 203.9,174.8 204.2,174.2 204.5,173.6 204.7,173.0 205.0,172.4 205.3,171.8 205.6,171.2 205.8,170.6 206.1,170.0 206.4,169.4 206.6,168.8 206.9,168.2 207.1,167.6 207.4,167.0 207.6,166.4 207.9,165.8 208.1,165.2 208.3,164.6 208.5,164.0 208.7,163.4 208.9,162.8 209.1,162.2 209.3,161.6 209.4,161.0 209.5,160.4 209.5,159.8 209.5,159.2 209.5,158.6 209.5,158.0 209.4,157.4 209.4,156.8 209.4,156.2 209.4,155.6 209.4,155.0 209.4,154.4 209.4,153.8 209.5,153.2 209.5,152.6 209.5,152.0 209.6,151.4 209.7,150.8 209.7,150.2 209.8,149.6 209.9,149.0 210.0,148.4Z" fill="#9dcf76" stroke="#30372e" stroke-width="1.65" stroke-linejoin="round"/>
<path d="M210.0,160.8L213.0,163.2L210.0,165.7L207.0,163.2ZM210.0,168.2L213.0,170.6L210.0,173.0L207.0,170.6ZM210.0,171.3L213.0,173.7L210.0,176.1L207.0,173.7ZM210.0,174.4L213.0,176.8L210.0,179.2L207.0,176.8ZM210.0,177.5L213.0,179.9L210.0,182.3L207.0,179.9ZM210.0,180.7L213.0,183.1L210.0,185.5L207.0,183.1ZM210.0,183.8L213.0,186.2L210.0,188.6L207.0,186.2ZM210.0,186.9L213.0,189.3L210.0,191.7L207.0,189.3ZM210.0,190.0L213.0,192.4L210.0,194.8L207.0,192.4ZM210.0,193.1L213.0,195.5L210.0,197.9L207.0,195.5ZM210.0,196.2L213.0,198.6L210.0,201.0L207.0,198.6ZM210.0,199.3L213.0,201.7L210.0,204.1L207.0,201.7ZM210.0,202.4L213.0,204.8L210.0,207.2L207.0,204.8ZM210.0,205.5L213.0,207.9L210.0,210.3L207.0,207.9ZM210.0,208.7L213.0,211.1L210.0,213.5L207.0,211.1ZM210.0,211.8L213.0,214.2L210.0,216.6L207.0,214.2ZM210.0,214.9L213.0,217.3L210.0,219.7L207.0,217.3ZM210.0,218.0L213.0,220.4L210.0,222.8L207.0,220.4ZM210.0,223.2L213.0,225.6L210.0,228.0L207.0,225.6ZM210.0,238.4L213.0,240.8L210.0,243.2L207.0,240.8Z" fill="#6e5010" stroke="#261c05" stroke-width="0.9" stroke-linejoin="miter"/>
<path d="M238.8,128.8 238.8,129.4 238.9,130.0 238.9,130.6 239.0,131.2 239.0,131.8 239.0,132.4 239.1,133.0 239.1,133.6 239.1,134.2 239.2,134.8 239.2,135.4 239.2,136.0 239.2,136.6 239.3,137.2 239.3,137.8 239.3,138.4 239.3,139.0 239.3,139.6 239.4,140.2 239.4,140.8 239.4,141.4 239.4,142.0 239.4,142.6 239.4,143.2 239.5,143.8 239.5,144.4 239.5,145.0 239.5,145.6 239.6,146.2 239.6,146.8 239.7,147.4 239.8,148.0 239.8,148.6 239.9,149.2 239.9,149.8 240.0,150.4 240.0,151.0 240.0,151.6 240.1,152.2 240.1,152.8 240.1,153.4 240.1,154.0 240.1,154.6 240.1,155.2 240.1,155.8 240.2,156.4 240.2,157.0 240.2,157.6 240.2,158.2 240.2,158.8 240.3,159.4 240.3,160.0 240.3,160.6 240.4,161.2 240.5,161.8 240.6,162.4 240.7,163.0 240.8,163.6 241.0,164.2 241.1,164.8 241.3,165.4 241.4,166.0 241.6,166.6 241.8,167.2 242.0,167.8 242.1,168.4 242.3,169.0 242.5,169.6 242.7,170.2 242.9,170.8 243.1,171.4 243.4,172.0 243.7,172.6 243.9,173.2 244.2,173.8 244.5,174.4 244.8,175.0 245.0,175.6 245.3,176.2 245.6,176.8 245.8,177.4 246.1,178.0 246.3,178.6 246.5,179.2 246.8,179.8 247.0,180.4 247.3,181.0 247.5,181.6 247.8,182.2 248.0,182.8 248.3,183.4 248.5,184.0 248.7,184.6 248.9,185.2 249.1,185.8 249.3,186.4 249.4,187.0 249.5,187.6 249.6,188.2 249.7,188.8 249.7,189.4 249.7,190.0 249.6,190.6 249.5,191.2 249.4,191.8 249.2,192.4 249.0,193.0 248.8,193.6 248.5,194.2 248.3,194.8 248.0,195.4 247.8,196.0 247.5,196.6 247.2,197.2 247.0,197.8 246.7,198.4 246.5,199.0 246.2,199.6 245.9,200.2 245.6,200.8 245.3,201.4 245.0,202.0 244.6,202.6 244.3,203.2 244.0,203.8 243.7,204.4 243.5,205.0 243.2,205.6 243.1,206.2 242.9,206.8 242.8,207.4 242.7,208.0 242.6,208.6 242.5,209.2 242.4,209.8 242.3,210.4 242.2,211.0 242.2,211.6 242.1,212.2 242.0,212.8 242.0,213.4 241.9,214.0 241.8,214.6 241.8,215.2 241.7,215.8 241.7,216.4 241.6,217.0 241.5,217.6 241.5,218.2 241.4,218.8 241.3,219.4 241.3,220.0 241.2,220.6 241.2,221.2 241.1,221.8 241.1,222.4 241.0,223.0 240.9,223.6 240.9,224.2 240.8,224.8 240.8,225.4 240.7,226.0 240.7,226.6 240.6,227.2 240.6,227.8 240.5,228.4 240.5,229.0 240.4,229.6 240.4,230.2 240.3,230.8 240.3,231.4 240.2,232.0 240.2,232.6 240.1,233.2 240.1,233.8 240.0,234.4 240.0,235.0 239.9,235.6 239.9,236.2 239.9,236.8 239.8,237.4 239.8,238.0 239.7,238.6 239.7,239.2 239.6,239.8 239.6,240.4 239.5,241.0 239.5,241.6 239.4,242.2 239.4,242.8 239.3,243.4 239.3,244.0 239.2,244.6 239.2,245.2 239.1,245.8 239.1,246.4 239.0,247.0 239.0,247.6 238.9,248.2 238.9,248.8 238.8,249.4 238.8,249.5 L238.8,249.5 238.8,249.4 238.7,248.8 238.7,248.2 238.6,247.6 238.6,247.0 238.5,246.4 238.5,245.8 238.4,245.2 238.4,244.6 238.3,244.0 238.3,243.4 238.2,242.8 238.2,242.2 238.1,241.6 238.1,241.0 238.0,240.4 238.0,239.8 237.9,239.2 237.9,238.6 237.8,238.0 237.8,237.4 237.7,236.8 237.7,236.2 237.7,235.6 237.6,235.0 237.6,234.4 237.5,233.8 237.5,233.2 237.4,232.6 237.4,232.0 237.3,231.4 237.3,230.8 237.2,230.2 237.2,229.6 237.1,229.0 237.1,228.4 237.0,227.8 237.0,227.2 236.9,226.6 236.9,226.0 236.8,225.4 236.8,224.8 236.7,224.2 236.7,223.6 236.6,223.0 236.5,222.4 236.5,221.8 236.4,221.2 236.4,220.6 236.3,220.0 236.3,219.4 236.2,218.8 236.1,218.2 236.1,217.6 236.0,217.0 235.9,216.4 235.9,215.8 235.8,215.2 235.8,214.6 235.7,214.0 235.6,213.4 235.6,212.8 235.5,212.2 235.4,211.6 235.4,211.0 235.3,210.4 235.2,209.8 235.1,209.2 235.0,208.6 234.9,208.0 234.8,207.4 234.7,206.8 234.5,206.2 234.4,205.6 234.1,205.0 233.9,204.4 233.6,203.8 233.3,203.2 233.0,202.6 232.6,202.0 232.3,201.4 232.0,200.8 231.7,200.2 231.4,199.6 231.1,199.0 230.9,198.4 230.6,197.8 230.4,197.2 230.1,196.6 229.8,196.0 229.6,195.4 229.3,194.8 229.1,194.2 228.8,193.6 228.6,193.0 228.4,192.4 228.2,191.8 228.1,191.2 228.0,190.6 227.9,190.0 227.9,189.4 227.9,188.8 228.0,188.2 228.1,187.6 228.2,187.0 228.3,186.4 228.5,185.8 228.7,185.2 228.9,184.6 229.1,184.0 229.3,183.4 229.6,182.8 229.8,182.2 230.1,181.6 230.3,181.0 230.6,180.4 230.8,179.8 231.1,179.2 231.3,178.6 231.5,178.0 231.8,177.4 232.0,176.8 232.3,176.2 232.6,175.6 232.8,175.0 233.1,174.4 233.4,173.8 233.7,173.2 233.9,172.6 234.2,172.0 234.5,171.4 234.7,170.8 234.9,170.2 235.1,169.6 235.3,169.0 235.5,168.4 235.6,167.8 235.8,167.2 236.0,166.6 236.2,166.0 236.3,165.4 236.5,164.8 236.6,164.2 236.8,163.6 236.9,163.0 237.0,162.4 237.1,161.8 237.2,161.2 237.3,160.6 237.3,160.0 237.3,159.4 237.4,158.8 237.4,158.2 237.4,157.6 237.4,157.0 237.4,156.4 237.5,155.8 237.5,155.2 237.5,154.6 237.5,154.0 237.5,153.4 237.5,152.8 237.5,152.2 237.6,151.6 237.6,151.0 237.6,150.4 237.7,149.8 237.7,149.2 237.8,148.6 237.8,148.0 237.9,147.4 238.0,146.8 238.0,146.2 238.1,145.6 238.1,145.0 238.1,144.4 238.1,143.8 238.2,143.2 238.2,142.6 238.2,142.0 238.2,141.4 238.2,140.8 238.2,140.2 238.3,139.6 238.3,139.0 238.3,138.4 238.3,137.8 238.3,137.2 238.4,136.6 238.4,136.0 238.4,135.4 238.4,134.8 238.5,134.2 238.5,133.6 238.5,133.0 238.6,132.4 238.6,131.8 238.6,131.2 238.7,130.6 238.7,130.0 238.8,129.4 238.8,128.8Z" fill="#9dcf76" stroke="#30372e" stroke-width="1.65" stroke-linejoin="round"/>
<path d="M238.8,144.9L241.8,147.3L238.8,149.8L235.8,147.3ZM238.8,153.6L241.8,156.0L238.8,158.4L235.8,156.0ZM238.8,163.2L241.8,165.6L238.8,168.0L235.8,165.6ZM238.8,166.3L241.8,168.7L238.8,171.1L235.8,168.7ZM238.8,169.3L241.8,171.7L238.8,174.1L235.8,171.7ZM238.8,172.4L241.8,174.8L238.8,177.2L235.8,174.8ZM238.8,175.4L241.8,177.8L238.8,180.2L235.8,177.8ZM238.8,178.5L241.8,180.9L238.8,183.3L235.8,180.9ZM238.8,181.6L241.8,184.0L238.8,186.4L235.8,184.0ZM238.8,184.6L241.8,187.0L238.8,189.4L235.8,187.0ZM238.8,187.7L241.8,190.1L238.8,192.5L235.8,190.1ZM238.8,190.8L241.8,193.2L238.8,195.6L235.8,193.2ZM238.8,193.8L241.8,196.2L238.8,198.6L235.8,196.2ZM238.8,196.9L241.8,199.3L238.8,201.7L235.8,199.3ZM238.8,199.9L241.8,202.3L238.8,204.7L235.8,202.3ZM238.8,203.0L241.8,205.4L238.8,207.8L235.8,205.4ZM238.8,211.2L241.8,213.6L238.8,216.0L235.8,213.6ZM238.8,215.0L241.8,217.4L238.8,219.8L235.8,217.4ZM238.8,223.6L241.8,226.0L238.8,228.4L235.8,226.0ZM238.8,231.2L241.8,233.6L238.8,236.0L235.8,233.6Z" fill="#0c5e60" stroke="#042021" stroke-width="0.9" stroke-linejoin="miter"/>
<path d="M267.6,111.2 267.6,111.8 267.6,112.4 267.7,113.0 267.7,113.6 267.7,114.2 267.7,114.8 267.7,115.4 267.8,116.0 267.8,116.6 267.8,117.2 267.8,117.8 267.8,118.4 267.9,119.0 267.9,119.6 267.9,120.2 267.9,120.8 267.9,121.4 268.0,122.0 268.0,122.6 268.0,123.2 268.0,123.8 268.0,124.4 268.1,125.0 268.1,125.6 268.1,126.2 268.1,126.8 268.1,127.4 268.1,128.0 268.2,128.6 268.2,129.2 268.2,129.8 268.2,130.4 268.2,131.0 268.2,131.6 268.3,132.2 268.3,132.8 268.3,133.4 268.3,134.0 268.3,134.6 268.4,135.2 268.4,135.8 268.4,136.4 268.4,137.0 268.4,137.6 268.4,138.2 268.5,138.8 268.5,139.4 268.5,140.0 268.5,140.6 268.5,141.2 268.5,141.8 268.6,142.4 268.6,143.0 268.6,143.6 268.6,144.2 268.6,144.8 268.6,145.4 268.7,146.0 268.7,146.6 268.7,147.2 268.7,147.8 268.7,148.4 268.7,149.0 268.8,149.6 268.8,150.2 268.8,150.8 268.8,151.4 268.8,152.0 268.9,152.6 268.9,153.2 268.9,153.8 268.9,154.4 269.0,155.0 269.0,155.6 269.0,156.2 269.1,156.8 269.1,157.4 269.1,158.0 269.2,158.6 269.2,159.2 269.3,159.8 269.3,160.4 269.4,161.0 269.5,161.6 269.6,162.2 269.7,162.8 269.9,163.4 270.0,164.0 270.2,164.6 270.3,165.2 270.5,165.8 270.7,166.4 270.9,167.0 271.1,167.6 271.3,168.2 271.4,168.8 271.6,169.4 271.8,170.0 272.1,170.6 272.3,171.2 272.6,171.8 272.9,172.4 273.2,173.0 273.5,173.6 273.8,174.2 274.1,174.8 274.4,175.4 274.7,176.0 274.9,176.6 275.2,177.2 275.4,177.8 275.6,178.4 275.8,179.0 276.0,179.6 276.2,180.2 276.4,180.8 276.6,181.4 276.8,182.0 276.9,182.6 277.1,183.2 277.3,183.8 277.5,184.4 277.6,185.0 277.8,185.6 277.9,186.2 278.0,186.8 278.2,187.4 278.3,188.0 278.3,188.6 278.4,189.2 278.5,189.8 278.5,190.4 278.5,191.0 278.5,191.6 278.4,192.2 278.3,192.8 278.2,193.4 278.0,194.0 277.8,194.6 277.6,195.2 277.4,195.8 277.1,196.4 276.9,197.0 276.6,197.6 276.4,198.2 276.2,198.8 275.9,199.4 275.6,200.0 275.2,200.6 274.8,201.2 274.4,201.8 274.0,202.4 273.5,203.0 273.1,203.6 272.8,204.2 272.4,204.8 272.2,205.4 271.9,206.0 271.8,206.6 271.7,207.2 271.5,207.8 271.4,208.4 271.4,209.0 271.3,209.6 271.2,210.2 271.1,210.8 271.0,211.4 271.0,212.0 270.9,212.6 270.8,213.2 270.8,213.8 270.7,214.4 270.7,215.0 270.6,215.6 270.6,216.2 270.5,216.8 270.5,217.4 270.4,218.0 270.3,218.6 270.3,219.2 270.2,219.8 270.1,220.4 270.1,221.0 270.0,221.6 269.9,222.2 269.9,222.8 269.8,223.4 269.8,224.0 269.7,224.6 269.6,225.2 269.6,225.8 269.5,226.4 269.5,227.0 269.4,227.6 269.4,228.2 269.3,228.8 269.3,229.4 269.2,230.0 269.1,230.6 269.1,231.2 269.0,231.8 269.0,232.4 268.9,233.0 268.9,233.6 268.8,234.2 268.8,234.8 268.7,235.4 268.7,236.0 268.6,236.6 268.6,237.2 268.6,237.8 268.5,238.4 268.5,239.0 268.4,239.6 268.4,240.2 268.3,240.8 268.3,241.4 268.3,242.0 268.2,242.6 268.2,243.2 268.2,243.8 268.1,244.4 268.1,245.0 268.1,245.6 268.0,246.2 268.0,246.8 268.0,247.4 267.9,248.0 267.9,248.6 267.9,249.2 267.8,249.8 267.8,250.4 267.8,251.0 267.8,251.6 267.7,252.2 267.7,252.8 267.7,253.4 267.7,254.0 267.6,254.6 267.6,255.2 267.6,255.5 L267.6,255.5 267.6,255.2 267.6,254.6 267.5,254.0 267.5,253.4 267.5,252.8 267.5,252.2 267.4,251.6 267.4,251.0 267.4,250.4 267.4,249.8 267.3,249.2 267.3,248.6 267.3,248.0 267.2,247.4 267.2,246.8 267.2,246.2 267.1,245.6 267.1,245.0 267.1,244.4 267.0,243.8 267.0,243.2 267.0,242.6 266.9,242.0 266.9,241.4 266.9,240.8 266.8,240.2 266.8,239.6 266.7,239.0 266.7,238.4 266.6,237.8 266.6,237.2 266.6,236.6 266.5,236.0 266.5,235.4 266.4,234.8 266.4,234.2 266.3,233.6 266.3,233.0 266.2,232.4 266.2,231.8 266.1,231.2 266.1,230.6 266.0,230.0 265.9,229.4 265.9,228.8 265.8,228.2 265.8,227.6 265.7,227.0 265.7,226.4 265.6,225.8 265.6,225.2 265.5,224.6 265.4,224.0 265.4,223.4 265.3,222.8 265.3,222.2 265.2,221.6 265.1,221.0 265.1,220.4 265.0,219.8 264.9,219.2 264.9,218.6 264.8,218.0 264.7,217.4 264.7,216.8 264.6,216.2 264.6,215.6 264.5,215.0 264.5,214.4 264.4,213.8 264.4,213.2 264.3,212.6 264.2,212.0 264.2,211.4 264.1,210.8 264.0,210.2 263.9,209.6 263.8,209.0 263.8,208.4 263.7,207.8 263.5,207.2 263.4,206.6 263.3,206.0 263.0,205.4 262.8,204.8 262.4,204.2 262.1,203.6 261.7,203.0 261.2,202.4 260.8,201.8 260.4,201.2 260.0,200.6 259.6,200.0 259.3,199.4 259.0,198.8 258.8,198.2 258.6,197.6 258.3,197.0 258.1,196.4 257.8,195.8 257.6,195.2 257.4,194.6 257.2,194.0 257.0,193.4 256.9,192.8 256.8,192.2 256.7,191.6 256.7,191.0 256.7,190.4 256.7,189.8 256.8,189.2 256.9,188.6 256.9,188.0 257.0,187.4 257.2,186.8 257.3,186.2 257.4,185.6 257.6,185.0 257.7,184.4 257.9,183.8 258.1,183.2 258.3,182.6 258.4,182.0 258.6,181.4 258.8,180.8 259.0,180.2 259.2,179.6 259.4,179.0 259.6,178.4 259.8,177.8 260.0,177.2 260.3,176.6 260.5,176.0 260.8,175.4 261.1,174.8 261.4,174.2 261.7,173.6 262.0,173.0 262.3,172.4 262.6,171.8 262.9,171.2 263.1,170.6 263.4,170.0 263.6,169.4 263.8,168.8 263.9,168.2 264.1,167.6 264.3,167.0 264.5,166.4 264.7,165.8 264.9,165.2 265.0,164.6 265.2,164.0 265.3,163.4 265.5,162.8 265.6,162.2 265.7,161.6 265.8,161.0 265.9,160.4 265.9,159.8 266.0,159.2 266.0,158.6 266.1,158.0 266.1,157.4 266.1,156.8 266.2,156.2 266.2,155.6 266.2,155.0 266.3,154.4 266.3,153.8 266.3,153.2 266.3,152.6 266.4,152.0 266.4,151.4 266.4,150.8 266.4,150.2 266.4,149.6 266.5,149.0 266.5,148.4 266.5,147.8 266.5,147.2 266.5,146.6 266.5,146.0 266.6,145.4 266.6,144.8 266.6,144.2 266.6,143.6 266.6,143.0 266.6,142.4 266.7,141.8 266.7,141.2 266.7,140.6 266.7,140.0 266.7,139.4 266.7,138.8 266.8,138.2 266.8,137.6 266.8,137.0 266.8,136.4 266.8,135.8 266.8,135.2 266.9,134.6 266.9,134.0 266.9,133.4 266.9,132.8 266.9,132.2 267.0,131.6 267.0,131.0 267.0,130.4 267.0,129.8 267.0,129.2 267.0,128.6 267.1,128.0 267.1,127.4 267.1,126.8 267.1,126.2 267.1,125.6 267.1,125.0 267.2,124.4 267.2,123.8 267.2,123.2 267.2,122.6 267.2,122.0 267.3,121.4 267.3,120.8 267.3,120.2 267.3,119.6 267.3,119.0 267.4,118.4 267.4,117.8 267.4,117.2 267.4,116.6 267.4,116.0 267.5,115.4 267.5,114.8 267.5,114.2 267.5,113.6 267.5,113.0 267.6,112.4 267.6,111.8 267.6,111.2Z" fill="#9dcf76" stroke="#30372e" stroke-width="1.65" stroke-linejoin="round"/>
<path d="M267.6,127.6L270.6,130.0L267.6,132.4L264.6,130.0ZM267.6,133.1L270.6,135.5L267.6,137.9L264.6,135.5ZM267.6,137.4L270.6,139.8L267.6,142.2L264.6,139.8ZM267.6,141.9L270.6,144.3L267.6,146.7L264.6,144.3ZM267.6,146.6L270.6,149.0L267.6,151.4L264.6,149.0ZM267.6,151.6L270.6,154.0L267.6,156.4L264.6,154.0ZM267.6,160.2L270.6,162.6L267.6,165.0L264.6,162.6ZM267.6,163.3L270.6,165.7L267.6,168.1L264.6,165.7ZM267.6,166.5L270.6,168.9L267.6,171.3L264.6,168.9ZM267.6,169.6L270.6,172.0L267.6,174.4L264.6,172.0ZM267.6,172.7L270.6,175.1L267.6,177.5L264.6,175.1ZM267.6,175.8L270.6,178.2L267.6,180.6L264.6,178.2ZM267.6,179.0L270.6,181.4L267.6,183.8L264.6,181.4ZM267.6,182.1L270.6,184.5L267.6,186.9L264.6,184.5ZM267.6,185.2L270.6,187.6L267.6,190.0L264.6,187.6ZM267.6,188.4L270.6,190.8L267.6,193.2L264.6,190.8ZM267.6,191.5L270.6,193.9L267.6,196.3L264.6,193.9ZM267.6,194.6L270.6,197.0L267.6,199.4L264.6,197.0ZM267.6,197.7L270.6,200.1L267.6,202.5L264.6,200.1ZM267.6,200.9L270.6,203.3L267.6,205.7L264.6,203.3ZM267.6,204.0L270.6,206.4L267.6,208.8L264.6,206.4ZM267.6,215.9L270.6,218.3L267.6,220.7L264.6,218.3ZM267.6,225.2L270.6,227.6L267.6,230.0L264.6,227.6ZM267.6,228.7L270.6,231.1L267.6,233.5L264.6,231.1Z" fill="#3a2018" stroke="#140b08" stroke-width="0.9" stroke-linejoin="miter"/>
<path d="M296.4,132.0 296.4,132.6 296.4,133.2 296.4,133.8 296.4,134.4 296.4,135.0 296.5,135.6 296.5,136.2 296.5,136.8 296.5,137.4 296.5,138.0 296.5,138.6 296.5,139.2 296.5,139.8 296.6,140.4 296.6,141.0 296.6,141.6 296.6,142.2 296.6,142.8 296.7,143.4 296.7,144.0 296.7,144.6 296.7,145.2 296.7,145.8 296.7,146.4 296.8,147.0 296.8,147.6 296.8,148.2 296.8,148.8 296.9,149.4 296.9,150.0 296.9,150.6 296.9,151.2 297.0,151.8 297.0,152.4 297.1,153.0 297.2,153.6 297.2,154.2 297.3,154.8 297.4,155.4 297.5,156.0 297.6,156.6 297.7,157.2 297.9,157.8 298.0,158.4 298.2,159.0 298.4,159.6 298.6,160.2 298.7,160.8 298.9,161.4 299.0,162.0 299.1,162.6 299.2,163.2 299.3,163.8 299.3,164.4 299.4,165.0 299.5,165.6 299.5,166.2 299.6,166.8 299.6,167.4 299.7,168.0 299.8,168.6 299.8,169.2 299.9,169.8 300.0,170.4 300.0,171.0 300.1,171.6 300.2,172.2 300.2,172.8 300.3,173.4 300.3,174.0 300.4,174.6 300.4,175.2 300.5,175.8 300.5,176.4 300.6,177.0 300.6,177.6 300.6,178.2 300.7,178.8 300.7,179.4 300.8,180.0 300.8,180.6 300.9,181.2 300.9,181.8 300.9,182.4 301.0,183.0 301.0,183.6 301.0,184.2 301.0,184.8 301.0,185.4 301.0,186.0 301.0,186.6 301.0,187.2 301.0,187.8 301.0,188.4 301.0,189.0 301.0,189.6 301.0,190.2 301.0,190.8 301.0,191.4 301.0,192.0 301.0,192.6 301.0,193.2 301.0,193.8 301.0,194.4 301.0,195.0 300.9,195.6 300.9,196.2 300.9,196.8 300.9,197.4 300.9,198.0 300.9,198.6 300.9,199.2 300.9,199.8 300.9,200.4 300.9,201.0 300.8,201.6 300.8,202.2 300.7,202.8 300.7,203.4 300.6,204.0 300.6,204.6 300.5,205.2 300.4,205.8 300.4,206.4 300.3,207.0 300.2,207.6 300.2,208.2 300.1,208.8 300.0,209.4 300.0,210.0 299.9,210.6 299.8,211.2 299.8,211.8 299.7,212.4 299.7,213.0 299.6,213.6 299.6,214.2 299.5,214.8 299.5,215.4 299.5,216.0 299.4,216.6 299.4,217.2 299.3,217.8 299.3,218.4 299.2,219.0 299.2,219.6 299.1,220.2 299.1,220.8 299.1,221.4 299.0,222.0 299.0,222.6 298.9,223.2 298.9,223.8 298.8,224.4 298.8,225.0 298.7,225.6 298.7,226.2 298.6,226.8 298.6,227.4 298.5,228.0 298.5,228.6 298.4,229.2 298.3,229.8 298.3,230.4 298.2,231.0 298.1,231.6 298.1,232.2 298.0,232.8 297.9,233.4 297.8,234.0 297.8,234.6 297.7,235.2 297.6,235.8 297.6,236.4 297.5,237.0 297.4,237.6 297.4,238.2 297.4,238.8 297.3,239.4 297.3,240.0 297.2,240.6 297.2,241.2 297.1,241.8 297.1,242.4 297.0,243.0 297.0,243.6 297.0,244.2 296.9,244.8 296.9,245.4 296.9,246.0 296.9,246.6 296.9,247.2 296.9,247.8 296.8,248.4 296.8,249.0 296.8,249.6 296.8,250.2 296.8,250.8 296.8,251.4 296.8,252.0 296.8,252.6 296.8,253.2 296.8,253.8 296.8,254.4 296.8,255.0 296.8,255.6 296.8,256.2 296.8,256.8 296.8,257.4 296.8,258.0 296.8,258.6 296.8,259.2 296.8,259.8 296.8,260.4 296.8,261.0 296.8,261.6 296.8,262.2 296.8,262.8 296.8,263.4 296.8,264.0 296.8,264.6 296.8,265.2 296.8,265.8 296.8,266.4 296.8,267.0 296.8,267.6 296.8,268.2 296.8,268.8 296.8,269.4 296.8,270.0 296.8,270.6 296.8,271.2 296.8,271.8 296.8,272.4 296.8,273.0 296.8,273.6 296.8,274.2 296.8,274.8 296.8,275.4 296.8,276.0 296.8,276.6 296.8,277.2 296.8,277.8 296.8,278.4 296.8,279.0 296.8,279.6 296.8,280.2 296.8,280.8 296.8,281.4 296.8,282.0 296.8,282.6 296.8,283.2 296.8,283.8 296.8,284.4 296.8,285.0 296.8,285.6 296.8,286.2 296.7,286.8 296.7,287.4 296.7,288.0 296.7,288.6 296.7,289.2 296.7,289.8 296.7,290.4 296.7,291.0 296.7,291.6 296.7,292.2 296.7,292.8 296.7,293.4 296.6,294.0 296.6,294.6 296.6,295.2 296.6,295.8 296.6,296.4 296.6,297.0 296.6,297.6 296.6,298.2 296.6,298.8 296.5,299.4 296.5,300.0 296.5,300.6 296.5,301.2 296.5,301.8 296.5,302.4 296.5,303.0 296.5,303.6 296.4,304.2 296.4,304.8 296.4,305.4 296.4,306.0 L296.4,306.0 296.4,305.4 296.4,304.8 296.4,304.2 296.3,303.6 296.3,303.0 296.3,302.4 296.3,301.8 296.3,301.2 296.3,300.6 296.3,300.0 296.3,299.4 296.2,298.8 296.2,298.2 296.2,297.6 296.2,297.0 296.2,296.4 296.2,295.8 296.2,295.2 296.2,294.6 296.2,294.0 296.1,293.4 296.1,292.8 296.1,292.2 296.1,291.6 296.1,291.0 296.1,290.4 296.1,289.8 296.1,289.2 296.1,288.6 296.1,288.0 296.1,287.4 296.1,286.8 296.0,286.2 296.0,285.6 296.0,285.0 296.0,284.4 296.0,283.8 296.0,283.2 296.0,282.6 296.0,282.0 296.0,281.4 296.0,280.8 296.0,280.2 296.0,279.6 296.0,279.0 296.0,278.4 296.0,277.8 296.0,277.2 296.0,276.6 296.0,276.0 296.0,275.4 296.0,274.8 296.0,274.2 296.0,273.6 296.0,273.0 296.0,272.4 296.0,271.8 296.0,271.2 296.0,270.6 296.0,270.0 296.0,269.4 296.0,268.8 296.0,268.2 296.0,267.6 296.0,267.0 296.0,266.4 296.0,265.8 296.0,265.2 296.0,264.6 296.0,264.0 296.0,263.4 296.0,262.8 296.0,262.2 296.0,261.6 296.0,261.0 296.0,260.4 296.0,259.8 296.0,259.2 296.0,258.6 296.0,258.0 296.0,257.4 296.0,256.8 296.0,256.2 296.0,255.6 296.0,255.0 296.0,254.4 296.0,253.8 296.0,253.2 296.0,252.6 296.0,252.0 296.0,251.4 296.0,250.8 296.0,250.2 296.0,249.6 296.0,249.0 296.0,248.4 295.9,247.8 295.9,247.2 295.9,246.6 295.9,246.0 295.9,245.4 295.9,244.8 295.8,244.2 295.8,243.6 295.8,243.0 295.7,242.4 295.7,241.8 295.6,241.2 295.6,240.6 295.5,240.0 295.5,239.4 295.4,238.8 295.4,238.2 295.4,237.6 295.3,237.0 295.2,236.4 295.2,235.8 295.1,235.2 295.0,234.6 295.0,234.0 294.9,233.4 294.8,232.8 294.7,232.2 294.7,231.6 294.6,231.0 294.5,230.4 294.5,229.8 294.4,229.2 294.3,228.6 294.3,228.0 294.2,227.4 294.2,226.8 294.1,226.2 294.1,225.6 294.0,225.0 294.0,224.4 293.9,223.8 293.9,223.2 293.8,222.6 293.8,222.0 293.7,221.4 293.7,220.8 293.7,220.2 293.6,219.6 293.6,219.0 293.5,218.4 293.5,217.8 293.4,217.2 293.4,216.6 293.3,216.0 293.3,215.4 293.3,214.8 293.2,214.2 293.2,213.6 293.1,213.0 293.1,212.4 293.0,211.8 293.0,211.2 292.9,210.6 292.8,210.0 292.8,209.4 292.7,208.8 292.6,208.2 292.6,207.6 292.5,207.0 292.4,206.4 292.4,205.8 292.3,205.2 292.2,204.6 292.2,204.0 292.1,203.4 292.1,202.8 292.0,202.2 292.0,201.6 291.9,201.0 291.9,200.4 291.9,199.8 291.9,199.2 291.9,198.6 291.9,198.0 291.9,197.4 291.9,196.8 291.9,196.2 291.9,195.6 291.8,195.0 291.8,194.4 291.8,193.8 291.8,193.2 291.8,192.6 291.8,192.0 291.8,191.4 291.8,190.8 291.8,190.2 291.8,189.6 291.8,189.0 291.8,188.4 291.8,187.8 291.8,187.2 291.8,186.6 291.8,186.0 291.8,185.4 291.8,184.8 291.8,184.2 291.8,183.6 291.8,183.0 291.9,182.4 291.9,181.8 291.9,181.2 292.0,180.6 292.0,180.0 292.1,179.4 292.1,178.8 292.2,178.2 292.2,177.6 292.2,177.0 292.3,176.4 292.3,175.8 292.4,175.2 292.4,174.6 292.5,174.0 292.5,173.4 292.6,172.8 292.6,172.2 292.7,171.6 292.8,171.0 292.8,170.4 292.9,169.8 293.0,169.2 293.0,168.6 293.1,168.0 293.2,167.4 293.2,166.8 293.3,166.2 293.3,165.6 293.4,165.0 293.5,164.4 293.5,163.8 293.6,163.2 293.7,162.6 293.8,162.0 293.9,161.4 294.1,160.8 294.2,160.2 294.4,159.6 294.6,159.0 294.8,158.4 294.9,157.8 295.1,157.2 295.2,156.6 295.3,156.0 295.4,155.4 295.5,154.8 295.6,154.2 295.6,153.6 295.7,153.0 295.8,152.4 295.8,151.8 295.9,151.2 295.9,150.6 295.9,150.0 295.9,149.4 296.0,148.8 296.0,148.2 296.0,147.6 296.0,147.0 296.1,146.4 296.1,145.8 296.1,145.2 296.1,144.6 296.1,144.0 296.1,143.4 296.2,142.8 296.2,142.2 296.2,141.6 296.2,141.0 296.2,140.4 296.3,139.8 296.3,139.2 296.3,138.6 296.3,138.0 296.3,137.4 296.3,136.8 296.3,136.2 296.3,135.6 296.4,135.0 296.4,134.4 296.4,133.8 296.4,133.2 296.4,132.6 296.4,132.0Z" fill="#9dcf76" stroke="#30372e" stroke-width="1.65" stroke-linejoin="round"/>
<path d="M296.4,159.9L299.4,162.3L296.4,164.7L293.4,162.3ZM296.4,170.2L299.4,172.6L296.4,175.0L293.4,172.6ZM296.4,173.3L299.4,175.7L296.4,178.1L293.4,175.7ZM296.4,176.4L299.4,178.8L296.4,181.2L293.4,178.8ZM296.4,179.5L299.4,181.9L296.4,184.3L293.4,181.9ZM296.4,182.6L299.4,185.0L296.4,187.4L293.4,185.0ZM296.4,185.7L299.4,188.1L296.4,190.5L293.4,188.1ZM296.4,188.9L299.4,191.3L296.4,193.7L293.4,191.3ZM296.4,192.0L299.4,194.4L296.4,196.8L293.4,194.4ZM296.4,195.1L299.4,197.5L296.4,199.9L293.4,197.5ZM296.4,198.2L299.4,200.6L296.4,203.0L293.4,200.6ZM296.4,201.3L299.4,203.7L296.4,206.1L293.4,203.7ZM296.4,204.4L299.4,206.8L296.4,209.2L293.4,206.8ZM296.4,219.2L299.4,221.6L296.4,224.0L293.4,221.6ZM296.4,222.2L299.4,224.6L296.4,227.0L293.4,224.6ZM296.4,225.1L299.4,227.5L296.4,229.9L293.4,227.5ZM296.4,228.0L299.4,230.4L296.4,232.8L293.4,230.4ZM296.4,231.0L299.4,233.4L296.4,235.8L293.4,233.4ZM296.4,276.4L299.4,278.8L296.4,281.2L293.4,278.8Z" fill="#464810" stroke="#181905" stroke-width="0.9" stroke-linejoin="miter"/>
<path d="M325.2,15.0 325.2,15.6 325.2,16.2 325.2,16.8 325.2,17.4 325.2,18.0 325.2,18.6 325.2,19.2 325.2,19.8 325.2,20.4 325.2,21.0 325.2,21.6 325.3,22.2 325.3,22.8 325.3,23.4 325.3,24.0 325.3,24.6 325.3,25.2 325.3,25.8 325.3,26.4 325.3,27.0 325.3,27.6 325.3,28.2 325.3,28.8 325.3,29.4 325.3,30.0 325.3,30.6 325.3,31.2 325.3,31.8 325.3,32.4 325.3,33.0 325.3,33.6 325.3,34.2 325.4,34.8 325.4,35.4 325.4,36.0 325.4,36.6 325.4,37.2 325.4,37.8 325.4,38.4 325.4,39.0 325.4,39.6 325.4,40.2 325.4,40.8 325.4,41.4 325.4,42.0 325.4,42.6 325.4,43.2 325.4,43.8 325.4,44.4 325.4,45.0 325.4,45.6 325.4,46.2 325.4,46.8 325.5,47.4 325.5,48.0 325.5,48.6 325.5,49.2 325.5,49.8 325.5,50.4 325.5,51.0 325.5,51.6 325.5,52.2 325.5,52.8 325.5,53.4 325.5,54.0 325.5,54.6 325.5,55.2 325.5,55.8 325.5,56.4 325.5,57.0 325.6,57.6 325.6,58.2 325.6,58.8 325.6,59.4 325.6,60.0 325.6,60.6 325.6,61.2 325.7,61.8 325.7,62.4 325.8,63.0 325.8,63.6 325.9,64.2 325.9,64.8 326.0,65.4 326.0,66.0 326.0,66.6 326.1,67.2 326.1,67.8 326.2,68.4 326.2,69.0 326.2,69.6 326.3,70.2 326.3,70.8 326.4,71.4 326.4,72.0 326.4,72.6 326.5,73.2 326.5,73.8 326.6,74.4 326.7,75.0 326.7,75.6 326.8,76.2 326.8,76.8 326.9,77.4 327.0,78.0 327.1,78.6 327.2,79.2 327.3,79.8 327.6,80.4 328.2,81.0 328.4,81.6 328.6,82.2 328.8,82.8 328.9,83.4 329.0,84.0 329.2,84.6 329.3,85.2 329.4,85.8 329.5,86.4 329.6,87.0 329.6,87.6 329.7,88.2 329.8,88.8 329.9,89.4 329.9,90.0 330.0,90.6 330.0,91.2 330.1,91.8 330.1,92.4 330.2,93.0 330.2,93.6 330.3,94.2 330.4,94.8 330.4,95.4 330.5,96.0 330.6,96.6 330.7,97.2 330.7,97.8 330.8,98.4 330.8,99.0 330.9,99.6 331.0,100.2 331.0,100.8 331.1,101.4 331.1,102.0 331.2,102.6 331.3,103.2 331.3,103.8 331.4,104.4 331.4,105.0 331.5,105.6 331.5,106.2 331.6,106.8 331.6,107.4 331.7,108.0 331.7,108.6 331.8,109.2 331.8,109.8 331.9,110.4 331.9,111.0 332.0,111.6 332.0,112.2 332.1,112.8 332.2,113.4 332.2,114.0 332.3,114.6 332.3,115.2 332.4,115.8 332.4,116.4 332.5,117.0 332.5,117.6 332.5,118.2 332.6,118.8 332.6,119.4 332.7,120.0 332.7,120.6 332.8,121.2 332.8,121.8 332.9,122.4 332.9,123.0 333.0,123.6 333.0,124.2 333.1,124.8 333.1,125.4 333.1,126.0 333.2,126.6 333.2,127.2 333.3,127.8 333.3,128.4 333.4,129.0 333.4,129.6 333.5,130.2 333.5,130.8 333.5,131.4 333.6,132.0 333.6,132.6 333.7,133.2 333.7,133.8 333.7,134.4 333.8,135.0 333.8,135.6 333.9,136.2 333.9,136.8 333.9,137.4 334.0,138.0 334.0,138.6 334.1,139.2 334.1,139.8 334.1,140.4 334.2,141.0 334.2,141.6 334.2,142.2 334.3,142.8 334.3,143.4 334.4,144.0 334.4,144.6 334.4,145.2 334.5,145.8 334.5,146.4 334.5,147.0 334.6,147.6 334.6,148.2 334.7,148.8 334.7,149.4 334.7,150.0 334.8,150.6 334.8,151.2 334.8,151.8 334.9,152.4 334.9,153.0 334.9,153.6 335.0,154.2 335.0,154.8 335.0,155.4 335.1,156.0 335.1,156.6 335.1,157.2 335.1,157.8 335.2,158.4 335.2,159.0 335.2,159.6 335.2,160.2 335.3,160.8 335.3,161.4 335.3,162.0 335.3,162.6 335.4,163.2 335.4,163.8 335.4,164.4 335.4,165.0 335.4,165.6 335.4,166.2 335.5,166.8 335.5,167.4 335.5,168.0 335.5,168.6 335.5,169.2 335.5,169.8 335.5,170.4 335.5,171.0 335.6,171.6 335.6,172.2 335.6,172.8 335.6,173.4 335.6,174.0 335.6,174.6 335.6,175.2 335.6,175.8 335.6,176.4 335.6,177.0 335.7,177.6 335.7,178.2 335.7,178.8 335.7,179.4 335.7,180.0 335.7,180.6 335.7,181.2 335.7,181.8 335.7,182.4 335.8,183.0 335.8,183.6 335.8,184.2 335.8,184.8 335.8,185.4 335.8,186.0 335.8,186.6 335.9,187.2 335.9,187.8 335.9,188.4 335.9,189.0 335.9,189.6 336.0,190.2 336.0,190.8 336.0,191.4 336.0,192.0 336.0,192.6 336.1,193.2 336.1,193.8 336.1,194.4 336.1,195.0 336.1,195.6 336.2,196.2 336.2,196.8 336.2,197.4 336.2,198.0 336.2,198.6 336.2,199.2 336.2,199.8 336.2,200.4 336.2,201.0 336.2,201.6 336.2,202.2 336.2,202.8 336.2,203.4 336.2,204.0 336.2,204.6 336.2,205.2 336.2,205.8 336.2,206.4 336.2,207.0 336.1,207.6 336.1,208.2 336.1,208.8 336.1,209.4 336.1,210.0 336.1,210.6 336.1,211.2 336.1,211.8 336.1,212.4 336.1,213.0 336.0,213.6 336.0,214.2 336.0,214.8 336.0,215.4 336.0,216.0 336.0,216.6 336.0,217.2 336.0,217.8 335.9,218.4 335.9,219.0 335.9,219.6 335.9,220.2 335.9,220.8 335.9,221.4 335.9,222.0 335.8,222.6 335.8,223.2 335.8,223.8 335.8,224.4 335.8,225.0 335.8,225.6 335.7,226.2 335.7,226.8 335.7,227.4 335.7,228.0 335.6,228.6 335.6,229.2 335.6,229.8 335.5,230.4 335.5,231.0 335.5,231.6 335.4,232.2 335.4,232.8 335.3,233.4 335.3,234.0 335.3,234.6 335.2,235.2 335.2,235.8 335.1,236.4 335.1,237.0 335.1,237.6 335.0,238.2 335.0,238.8 334.9,239.4 334.9,240.0 334.9,240.6 334.8,241.2 334.8,241.8 334.7,242.4 334.7,243.0 334.6,243.6 334.6,244.2 334.5,244.8 334.5,245.4 334.4,246.0 334.4,246.6 334.3,247.2 334.3,247.8 334.2,248.4 334.2,249.0 334.1,249.6 334.1,250.2 334.0,250.8 333.9,251.4 333.9,252.0 333.8,252.6 333.8,253.2 333.7,253.8 333.6,254.4 333.6,255.0 333.5,255.6 333.4,256.2 333.3,256.8 333.3,257.4 333.2,258.0 333.1,258.6 333.0,259.2 333.0,259.8 332.9,260.4 332.8,261.0 332.7,261.6 332.7,262.2 332.6,262.8 332.5,263.4 332.5,264.0 332.4,264.6 332.3,265.2 332.3,265.8 332.2,266.4 332.2,267.0 332.1,267.6 332.1,268.2 332.0,268.8 332.0,269.4 331.9,270.0 331.9,270.6 331.8,271.2 331.8,271.8 331.7,272.4 331.7,273.0 331.6,273.6 331.6,274.2 331.5,274.8 331.5,275.4 331.4,276.0 331.4,276.6 331.3,277.2 331.3,277.8 331.2,278.4 331.2,279.0 331.1,279.6 331.0,280.2 331.0,280.8 330.9,281.4 330.8,282.0 330.8,282.6 330.7,283.2 330.6,283.8 330.6,284.4 330.5,285.0 330.4,285.6 330.3,286.2 330.3,286.8 330.2,287.4 330.1,288.0 330.1,288.6 330.0,289.2 329.9,289.8 329.9,290.4 329.8,291.0 329.8,291.6 329.7,292.2 329.7,292.8 329.6,293.4 329.6,294.0 329.5,294.6 329.5,295.2 329.4,295.8 329.4,296.4 329.4,297.0 329.3,297.6 329.3,298.2 329.2,298.8 329.2,299.4 329.1,300.0 329.1,300.6 329.0,301.2 329.0,301.8 328.9,302.4 328.9,303.0 328.8,303.6 328.8,304.2 328.7,304.8 328.7,305.4 328.6,306.0 328.5,306.6 328.4,307.2 328.4,307.8 328.3,308.4 328.2,309.0 328.1,309.6 328.0,310.2 328.0,310.8 327.9,311.4 327.8,312.0 327.7,312.6 327.6,313.2 327.6,313.8 327.5,314.4 327.4,315.0 327.3,315.6 327.3,316.2 327.2,316.8 327.2,317.4 327.1,318.0 327.1,318.6 327.0,319.2 326.9,319.8 326.9,320.4 326.8,321.0 326.8,321.6 326.7,322.2 326.7,322.8 326.6,323.4 326.6,324.0 326.6,324.6 326.5,325.2 326.5,325.8 326.4,326.4 326.4,327.0 326.3,327.6 326.3,328.2 326.3,328.8 326.2,329.4 326.2,330.0 326.1,330.6 326.1,331.2 326.1,331.8 326.0,332.4 326.0,333.0 326.0,333.6 325.9,334.2 325.9,334.8 325.9,335.4 325.8,336.0 325.8,336.6 325.8,337.2 325.7,337.8 325.7,338.4 325.7,339.0 325.6,339.6 325.6,340.2 325.6,340.8 325.6,341.4 325.5,342.0 325.5,342.6 325.5,343.2 325.5,343.8 325.4,344.4 325.4,345.0 325.4,345.6 325.4,346.2 325.3,346.8 325.3,347.4 325.3,348.0 325.3,348.6 325.3,349.2 325.2,349.8 325.2,350.4 325.2,351.0 325.2,351.5 L325.2,351.5 325.2,351.0 325.2,350.4 325.2,349.8 325.1,349.2 325.1,348.6 325.1,348.0 325.1,347.4 325.1,346.8 325.0,346.2 325.0,345.6 325.0,345.0 325.0,344.4 324.9,343.8 324.9,343.2 324.9,342.6 324.9,342.0 324.8,341.4 324.8,340.8 324.8,340.2 324.8,339.6 324.7,339.0 324.7,338.4 324.7,337.8 324.6,337.2 324.6,336.6 324.6,336.0 324.5,335.4 324.5,334.8 324.5,334.2 324.4,333.6 324.4,333.0 324.4,332.4 324.3,331.8 324.3,331.2 324.3,330.6 324.2,330.0 324.2,329.4 324.1,328.8 324.1,328.2 324.1,327.6 324.0,327.0 324.0,326.4 323.9,325.8 323.9,325.2 323.8,324.6 323.8,324.0 323.8,323.4 323.7,322.8 323.7,322.2 323.6,321.6 323.6,321.0 323.5,320.4 323.5,319.8 323.4,319.2 323.3,318.6 323.3,318.0 323.2,317.4 323.2,316.8 323.1,316.2 323.1,315.6 323.0,315.0 322.9,314.4 322.8,313.8 322.8,313.2 322.7,312.6 322.6,312.0 322.5,311.4 322.4,310.8 322.4,310.2 322.3,309.6 322.2,309.0 322.1,308.4 322.0,307.8 322.0,307.2 321.9,306.6 321.8,306.0 321.7,305.4 321.7,304.8 321.6,304.2 321.6,303.6 321.5,303.0 321.5,302.4 321.4,301.8 321.4,301.2 321.3,300.6 321.3,300.0 321.2,299.4 321.2,298.8 321.1,298.2 321.1,297.6 321.0,297.0 321.0,296.4 321.0,295.8 320.9,295.2 320.9,294.6 320.8,294.0 320.8,293.4 320.7,292.8 320.7,292.2 320.6,291.6 320.6,291.0 320.5,290.4 320.5,289.8 320.4,289.2 320.3,288.6 320.3,288.0 320.2,287.4 320.1,286.8 320.1,286.2 320.0,285.6 319.9,285.0 319.8,284.4 319.8,283.8 319.7,283.2 319.6,282.6 319.6,282.0 319.5,281.4 319.4,280.8 319.4,280.2 319.3,279.6 319.2,279.0 319.2,278.4 319.1,277.8 319.1,277.2 319.0,276.6 319.0,276.0 318.9,275.4 318.9,274.8 318.8,274.2 318.8,273.6 318.7,273.0 318.7,272.4 318.6,271.8 318.6,271.2 318.5,270.6 318.5,270.0 318.4,269.4 318.4,268.8 318.3,268.2 318.3,267.6 318.2,267.0 318.2,266.4 318.1,265.8 318.1,265.2 318.0,264.6 317.9,264.0 317.9,263.4 317.8,262.8 317.7,262.2 317.7,261.6 317.6,261.0 317.5,260.4 317.4,259.8 317.4,259.2 317.3,258.6 317.2,258.0 317.1,257.4 317.1,256.8 317.0,256.2 316.9,255.6 316.8,255.0 316.8,254.4 316.7,253.8 316.6,253.2 316.6,252.6 316.5,252.0 316.5,251.4 316.4,250.8 316.3,250.2 316.3,249.6 316.2,249.0 316.2,248.4 316.1,247.8 316.1,247.2 316.0,246.6 316.0,246.0 315.9,245.4 315.9,244.8 315.8,244.2 315.8,243.6 315.7,243.0 315.7,242.4 315.6,241.8 315.6,241.2 315.5,240.6 315.5,240.0 315.5,239.4 315.4,238.8 315.4,238.2 315.3,237.6 315.3,237.0 315.3,236.4 315.2,235.8 315.2,235.2 315.1,234.6 315.1,234.0 315.1,233.4 315.0,232.8 315.0,232.2 314.9,231.6 314.9,231.0 314.9,230.4 314.8,229.8 314.8,229.2 314.8,228.6 314.7,228.0 314.7,227.4 314.7,226.8 314.7,226.2 314.6,225.6 314.6,225.0 314.6,224.4 314.6,223.8 314.6,223.2 314.6,222.6 314.5,222.0 314.5,221.4 314.5,220.8 314.5,220.2 314.5,219.6 314.5,219.0 314.5,218.4 314.4,217.8 314.4,217.2 314.4,216.6 314.4,216.0 314.4,215.4 314.4,214.8 314.4,214.2 314.4,213.6 314.3,213.0 314.3,212.4 314.3,211.8 314.3,211.2 314.3,210.6 314.3,210.0 314.3,209.4 314.3,208.8 314.3,208.2 314.3,207.6 314.2,207.0 314.2,206.4 314.2,205.8 314.2,205.2 314.2,204.6 314.2,204.0 314.2,203.4 314.2,202.8 314.2,202.2 314.2,201.6 314.2,201.0 314.2,200.4 314.2,199.8 314.2,199.2 314.2,198.6 314.2,198.0 314.2,197.4 314.2,196.8 314.2,196.2 314.3,195.6 314.3,195.0 314.3,194.4 314.3,193.8 314.3,193.2 314.4,192.6 314.4,192.0 314.4,191.4 314.4,190.8 314.4,190.2 314.5,189.6 314.5,189.0 314.5,188.4 314.5,187.8 314.5,187.2 314.6,186.6 314.6,186.0 314.6,185.4 314.6,184.8 314.6,184.2 314.6,183.6 314.6,183.0 314.7,182.4 314.7,181.8 314.7,181.2 314.7,180.6 314.7,180.0 314.7,179.4 314.7,178.8 314.7,178.2 314.7,177.6 314.8,177.0 314.8,176.4 314.8,175.8 314.8,175.2 314.8,174.6 314.8,174.0 314.8,173.4 314.8,172.8 314.8,172.2 314.8,171.6 314.9,171.0 314.9,170.4 314.9,169.8 314.9,169.2 314.9,168.6 314.9,168.0 314.9,167.4 314.9,166.8 315.0,166.2 315.0,165.6 315.0,165.0 315.0,164.4 315.0,163.8 315.0,163.2 315.1,162.6 315.1,162.0 315.1,161.4 315.1,160.8 315.2,160.2 315.2,159.6 315.2,159.0 315.2,158.4 315.3,157.8 315.3,157.2 315.3,156.6 315.3,156.0 315.4,155.4 315.4,154.8 315.4,154.2 315.5,153.6 315.5,153.0 315.5,152.4 315.6,151.8 315.6,151.2 315.6,150.6 315.7,150.0 315.7,149.4 315.7,148.8 315.8,148.2 315.8,147.6 315.9,147.0 315.9,146.4 315.9,145.8 316.0,145.2 316.0,144.6 316.0,144.0 316.1,143.4 316.1,142.8 316.2,142.2 316.2,141.6 316.2,141.0 316.3,140.4 316.3,139.8 316.3,139.2 316.4,138.6 316.4,138.0 316.5,137.4 316.5,136.8 316.5,136.2 316.6,135.6 316.6,135.0 316.7,134.4 316.7,133.8 316.7,133.2 316.8,132.6 316.8,132.0 316.9,131.4 316.9,130.8 316.9,130.2 317.0,129.6 317.0,129.0 317.1,128.4 317.1,127.8 317.2,127.2 317.2,126.6 317.2,126.0 317.3,125.4 317.3,124.8 317.4,124.2 317.4,123.6 317.5,123.0 317.5,122.4 317.6,121.8 317.6,121.2 317.7,120.6 317.7,120.0 317.8,119.4 317.8,118.8 317.9,118.2 317.9,117.6 317.9,117.0 318.0,116.4 318.0,115.8 318.1,115.2 318.1,114.6 318.2,114.0 318.2,113.4 318.3,112.8 318.4,112.2 318.4,111.6 318.5,111.0 318.5,110.4 318.6,109.8 318.6,109.2 318.7,108.6 318.7,108.0 318.8,107.4 318.8,106.8 318.9,106.2 318.9,105.6 319.0,105.0 319.0,104.4 319.1,103.8 319.1,103.2 319.2,102.6 319.3,102.0 319.3,101.4 319.4,100.8 319.4,100.2 319.5,99.6 319.6,99.0 319.6,98.4 319.7,97.8 319.7,97.2 319.8,96.6 319.9,96.0 320.0,95.4 320.0,94.8 320.1,94.2 320.2,93.6 320.2,93.0 320.3,92.4 320.3,91.8 320.4,91.2 320.4,90.6 320.5,90.0 320.5,89.4 320.6,88.8 320.7,88.2 320.8,87.6 320.8,87.0 320.9,86.4 321.0,85.8 321.1,85.2 321.2,84.6 321.4,84.0 321.5,83.4 321.6,82.8 321.8,82.2 322.0,81.6 322.2,81.0 322.8,80.4 323.1,79.8 323.2,79.2 323.3,78.6 323.4,78.0 323.5,77.4 323.6,76.8 323.6,76.2 323.7,75.6 323.7,75.0 323.8,74.4 323.9,73.8 323.9,73.2 324.0,72.6 324.0,72.0 324.0,71.4 324.1,70.8 324.1,70.2 324.2,69.6 324.2,69.0 324.2,68.4 324.3,67.8 324.3,67.2 324.4,66.6 324.4,66.0 324.4,65.4 324.5,64.8 324.5,64.2 324.6,63.6 324.6,63.0 324.7,62.4 324.7,61.8 324.8,61.2 324.8,60.6 324.8,60.0 324.8,59.4 324.8,58.8 324.8,58.2 324.8,57.6 324.9,57.0 324.9,56.4 324.9,55.8 324.9,55.2 324.9,54.6 324.9,54.0 324.9,53.4 324.9,52.8 324.9,52.2 324.9,51.6 324.9,51.0 324.9,50.4 324.9,49.8 324.9,49.2 324.9,48.6 324.9,48.0 324.9,47.4 325.0,46.8 325.0,46.2 325.0,45.6 325.0,45.0 325.0,44.4 325.0,43.8 325.0,43.2 325.0,42.6 325.0,42.0 325.0,41.4 325.0,40.8 325.0,40.2 325.0,39.6 325.0,39.0 325.0,38.4 325.0,37.8 325.0,37.2 325.0,36.6 325.0,36.0 325.0,35.4 325.0,34.8 325.1,34.2 325.1,33.6 325.1,33.0 325.1,32.4 325.1,31.8 325.1,31.2 325.1,30.6 325.1,30.0 325.1,29.4 325.1,28.8 325.1,28.2 325.1,27.6 325.1,27.0 325.1,26.4 325.1,25.8 325.1,25.2 325.1,24.6 325.1,24.0 325.1,23.4 325.1,22.8 325.1,22.2 325.2,21.6 325.2,21.0 325.2,20.4 325.2,19.8 325.2,19.2 325.2,18.6 325.2,18.0 325.2,17.4 325.2,16.8 325.2,16.2 325.2,15.6 325.2,15.0Z" fill="#9dcf76" stroke="#30372e" stroke-width="1.65" stroke-linejoin="round"/>
<path d="M325.2,18.6L328.2,21.0L325.2,23.4L322.2,21.0ZM325.2,29.6L328.2,32.0L325.2,34.4L322.2,32.0ZM325.2,58.6L328.2,61.0L325.2,63.4L322.2,61.0ZM325.2,63.6L328.2,66.0L325.2,68.4L322.2,66.0ZM325.2,70.1L328.2,72.5L325.2,74.9L322.2,72.5ZM325.2,75.1L328.2,77.5L325.2,79.9L322.2,77.5ZM325.2,78.1L328.2,80.5L325.2,82.9L322.2,80.5ZM325.2,146.6L328.2,149.0L325.2,151.4L322.2,149.0ZM325.2,154.5L328.2,156.9L325.2,159.3L322.2,156.9ZM325.2,157.3L328.2,159.7L325.2,162.1L322.2,159.7ZM325.2,160.0L328.2,162.4L325.2,164.8L322.2,162.4ZM325.2,162.8L328.2,165.2L325.2,167.6L322.2,165.2ZM325.2,169.6L328.2,172.0L325.2,174.4L322.2,172.0ZM325.2,172.7L328.2,175.1L325.2,177.5L322.2,175.1ZM325.2,175.8L328.2,178.2L325.2,180.6L322.2,178.2ZM325.2,178.9L328.2,181.3L325.2,183.7L322.2,181.3ZM325.2,182.0L328.2,184.4L325.2,186.8L322.2,184.4ZM325.2,185.0L328.2,187.4L325.2,189.8L322.2,187.4ZM325.2,188.1L328.2,190.5L325.2,192.9L322.2,190.5ZM325.2,191.2L328.2,193.6L325.2,196.0L322.2,193.6ZM325.2,194.3L328.2,196.7L325.2,199.1L322.2,196.7ZM325.2,197.4L328.2,199.8L325.2,202.2L322.2,199.8ZM325.2,227.6L328.2,230.0L325.2,232.4L322.2,230.0ZM325.2,231.6L328.2,234.0L325.2,236.4L322.2,234.0ZM325.2,240.2L328.2,242.6L325.2,245.0L322.2,242.6ZM325.2,251.6L328.2,254.0L325.2,256.4L322.2,254.0ZM325.2,286.3L328.2,288.7L325.2,291.1L322.2,288.7ZM325.2,292.6L328.2,295.0L325.2,297.4L322.2,295.0ZM325.2,296.6L328.2,299.0L325.2,301.4L322.2,299.0ZM325.2,304.8L328.2,307.2L325.2,309.6L322.2,307.2Z" fill="#953410" stroke="#341205" stroke-width="0.9" stroke-linejoin="miter"/>
<path d="M354.0,166.4 354.0,167.0 354.0,167.6 354.1,168.2 354.1,168.8 354.1,169.4 354.1,170.0 354.2,170.6 354.2,171.2 354.2,171.8 354.3,172.4 354.3,173.0 354.3,173.6 354.4,174.2 354.4,174.8 354.5,175.4 354.5,176.0 354.5,176.6 354.6,177.2 354.6,177.8 354.7,178.4 354.7,179.0 354.8,179.6 354.8,180.2 354.9,180.8 355.0,181.4 355.1,182.0 355.1,182.6 355.2,183.2 355.4,183.8 355.6,184.4 355.8,185.0 356.0,185.6 356.2,186.2 356.3,186.8 356.3,187.4 356.3,188.0 356.4,188.6 356.4,189.2 356.4,189.8 356.4,190.4 356.5,191.0 356.5,191.6 356.5,192.2 356.5,192.8 356.5,193.4 356.5,194.0 356.6,194.6 356.6,195.2 356.6,195.8 356.6,196.4 356.6,197.0 356.6,197.6 356.6,198.2 356.6,198.8 356.6,199.4 356.6,200.0 356.6,200.6 356.6,201.2 356.6,201.8 356.6,202.4 356.6,203.0 356.6,203.6 356.5,204.2 356.5,204.8 356.5,205.4 356.5,206.0 356.5,206.6 356.4,207.2 356.4,207.8 356.3,208.4 356.1,209.0 355.9,209.6 355.6,210.2 355.3,210.8 355.2,211.4 355.1,212.0 355.0,212.6 354.9,213.2 354.9,213.8 354.8,214.4 354.8,215.0 354.8,215.6 354.8,216.2 354.7,216.8 354.7,217.4 354.7,218.0 354.7,218.6 354.7,219.2 354.6,219.8 354.6,220.4 354.6,221.0 354.6,221.6 354.6,222.2 354.6,222.8 354.6,223.4 354.6,224.0 354.6,224.6 354.6,225.2 354.5,225.8 354.5,226.4 354.5,227.0 354.5,227.6 354.5,228.2 354.5,228.8 354.5,229.4 354.5,230.0 354.5,230.6 354.5,231.2 354.5,231.8 354.5,232.4 354.4,233.0 354.4,233.6 354.4,234.2 354.4,234.8 354.4,235.4 354.4,236.0 354.4,236.6 354.3,237.2 354.3,237.8 354.3,238.4 354.3,239.0 354.3,239.6 354.3,240.2 354.3,240.8 354.2,241.4 354.2,242.0 354.2,242.6 354.2,243.2 354.2,243.8 354.2,244.4 354.1,245.0 354.1,245.6 354.1,246.2 354.1,246.8 354.1,247.4 354.1,248.0 354.0,248.6 354.0,249.2 354.0,249.8 354.0,250.2 L354.0,250.2 354.0,249.8 354.0,249.2 354.0,248.6 353.9,248.0 353.9,247.4 353.9,246.8 353.9,246.2 353.9,245.6 353.9,245.0 353.8,244.4 353.8,243.8 353.8,243.2 353.8,242.6 353.8,242.0 353.8,241.4 353.7,240.8 353.7,240.2 353.7,239.6 353.7,239.0 353.7,238.4 353.7,237.8 353.7,237.2 353.6,236.6 353.6,236.0 353.6,235.4 353.6,234.8 353.6,234.2 353.6,233.6 353.6,233.0 353.5,232.4 353.5,231.8 353.5,231.2 353.5,230.6 353.5,230.0 353.5,229.4 353.5,228.8 353.5,228.2 353.5,227.6 353.5,227.0 353.5,226.4 353.5,225.8 353.4,225.2 353.4,224.6 353.4,224.0 353.4,223.4 353.4,222.8 353.4,222.2 353.4,221.6 353.4,221.0 353.4,220.4 353.4,219.8 353.3,219.2 353.3,218.6 353.3,218.0 353.3,217.4 353.3,216.8 353.2,216.2 353.2,215.6 353.2,215.0 353.2,214.4 353.1,213.8 353.1,213.2 353.0,212.6 352.9,212.0 352.8,211.4 352.7,210.8 352.4,210.2 352.1,209.6 351.9,209.0 351.7,208.4 351.6,207.8 351.6,207.2 351.5,206.6 351.5,206.0 351.5,205.4 351.5,204.8 351.5,204.2 351.4,203.6 351.4,203.0 351.4,202.4 351.4,201.8 351.4,201.2 351.4,200.6 351.4,200.0 351.4,199.4 351.4,198.8 351.4,198.2 351.4,197.6 351.4,197.0 351.4,196.4 351.4,195.8 351.4,195.2 351.4,194.6 351.5,194.0 351.5,193.4 351.5,192.8 351.5,192.2 351.5,191.6 351.5,191.0 351.6,190.4 351.6,189.8 351.6,189.2 351.6,188.6 351.7,188.0 351.7,187.4 351.7,186.8 351.8,186.2 352.0,185.6 352.2,185.0 352.4,184.4 352.6,183.8 352.8,183.2 352.9,182.6 352.9,182.0 353.0,181.4 353.1,180.8 353.2,180.2 353.2,179.6 353.3,179.0 353.3,178.4 353.4,177.8 353.4,177.2 353.5,176.6 353.5,176.0 353.5,175.4 353.6,174.8 353.6,174.2 353.7,173.6 353.7,173.0 353.7,172.4 353.8,171.8 353.8,171.2 353.8,170.6 353.9,170.0 353.9,169.4 353.9,168.8 353.9,168.2 354.0,167.6 354.0,167.0 354.0,166.4Z" fill="#9dcf76" stroke="#30372e" stroke-width="1.65" stroke-linejoin="round"/>
<path d="M354.0,185.2L357.0,187.6L354.0,190.0L351.0,187.6ZM354.0,188.2L357.0,190.6L354.0,193.0L351.0,190.6ZM354.0,191.1L357.0,193.5L354.0,195.9L351.0,193.5ZM354.0,194.1L357.0,196.5L354.0,198.9L351.0,196.5ZM354.0,197.1L357.0,199.5L354.0,201.9L351.0,199.5ZM354.0,200.1L357.0,202.5L354.0,204.9L351.0,202.5ZM354.0,203.0L357.0,205.4L354.0,207.8L351.0,205.4ZM354.0,206.0L357.0,208.4L354.0,210.8L351.0,208.4ZM354.0,213.1L357.0,215.5L354.0,217.9L351.0,215.5ZM354.0,227.8L357.0,230.2L354.0,232.6L351.0,230.2Z" fill="#2a4f85" stroke="#0e1b2e" stroke-width="0.9" stroke-linejoin="miter"/>
<path d="M382.8,171.5 382.8,172.1 382.8,172.7 382.8,173.3 382.8,173.9 382.9,174.5 382.9,175.1 382.9,175.7 383.0,176.3 383.0,176.9 383.1,177.5 383.1,178.1 383.2,178.7 383.2,179.3 383.3,179.9 383.4,180.5 383.5,181.1 383.6,181.7 383.8,182.3 383.9,182.9 384.1,183.5 384.2,184.1 384.3,184.7 384.4,185.3 384.5,185.9 384.6,186.5 384.7,187.1 384.8,187.7 384.9,188.3 385.0,188.9 385.0,189.5 385.0,190.1 385.0,190.7 385.0,191.3 385.0,191.9 385.0,192.5 385.0,193.1 385.0,193.7 385.0,194.3 385.0,194.9 385.0,195.5 385.0,196.1 385.0,196.7 385.0,197.3 385.0,197.9 385.0,198.5 385.0,199.1 385.0,199.7 385.0,200.3 385.0,200.9 385.0,201.5 385.0,202.1 385.0,202.7 385.0,203.3 385.0,203.9 385.0,204.5 385.0,205.1 385.0,205.7 385.0,206.3 384.9,206.9 384.8,207.5 384.8,208.1 384.7,208.7 384.6,209.3 384.5,209.9 384.5,210.5 384.4,211.1 384.3,211.7 384.2,212.3 384.1,212.9 384.0,213.5 383.9,214.1 383.8,214.7 383.8,215.3 383.7,215.9 383.7,216.5 383.6,217.1 383.6,217.7 383.5,218.3 383.5,218.9 383.4,219.5 383.4,220.1 383.4,220.7 383.3,221.3 383.3,221.9 383.3,222.5 383.2,223.1 383.2,223.7 383.2,224.3 383.1,224.9 383.1,225.5 383.1,226.1 383.0,226.7 383.0,227.3 383.0,227.9 382.9,228.5 382.9,229.1 382.9,229.7 382.9,230.3 382.9,230.9 382.8,231.5 382.8,232.1 382.8,232.7 382.8,233.2 L382.8,233.2 382.8,232.7 382.8,232.1 382.8,231.5 382.7,230.9 382.7,230.3 382.7,229.7 382.7,229.1 382.7,228.5 382.6,227.9 382.6,227.3 382.6,226.7 382.5,226.1 382.5,225.5 382.5,224.9 382.4,224.3 382.4,223.7 382.4,223.1 382.3,222.5 382.3,221.9 382.3,221.3 382.2,220.7 382.2,220.1 382.2,219.5 382.1,218.9 382.1,218.3 382.0,217.7 382.0,217.1 381.9,216.5 381.9,215.9 381.8,215.3 381.8,214.7 381.7,214.1 381.6,213.5 381.5,212.9 381.4,212.3 381.3,211.7 381.2,211.1 381.1,210.5 381.1,209.9 381.0,209.3 380.9,208.7 380.8,208.1 380.8,207.5 380.7,206.9 380.6,206.3 380.6,205.7 380.6,205.1 380.6,204.5 380.6,203.9 380.6,203.3 380.6,202.7 380.6,202.1 380.6,201.5 380.6,200.9 380.6,200.3 380.6,199.7 380.6,199.1 380.6,198.5 380.6,197.9 380.6,197.3 380.6,196.7 380.6,196.1 380.6,195.5 380.6,194.9 380.6,194.3 380.6,193.7 380.6,193.1 380.6,192.5 380.6,191.9 380.6,191.3 380.6,190.7 380.6,190.1 380.6,189.5 380.6,188.9 380.7,188.3 380.8,187.7 380.9,187.1 381.0,186.5 381.1,185.9 381.2,185.3 381.3,184.7 381.4,184.1 381.5,183.5 381.7,182.9 381.8,182.3 382.0,181.7 382.1,181.1 382.2,180.5 382.3,179.9 382.4,179.3 382.4,178.7 382.5,178.1 382.5,177.5 382.6,176.9 382.6,176.3 382.7,175.7 382.7,175.1 382.7,174.5 382.8,173.9 382.8,173.3 382.8,172.7 382.8,172.1 382.8,171.5Z" fill="#9dcf76" stroke="#30372e" stroke-width="1.65" stroke-linejoin="round"/>
<path d="M382.8,183.1L385.8,185.5L382.8,187.9L379.8,185.5ZM382.8,187.2L385.8,189.6L382.8,192.0L379.8,189.6ZM382.8,190.5L385.8,192.9L382.8,195.3L379.8,192.9ZM382.8,193.8L385.8,196.2L382.8,198.6L379.8,196.2ZM382.8,197.1L385.8,199.5L382.8,201.9L379.8,199.5ZM382.8,200.4L385.8,202.8L382.8,205.2L379.8,202.8ZM382.8,203.7L385.8,206.1L382.8,208.5L379.8,206.1ZM382.8,207.0L385.8,209.4L382.8,211.8L379.8,209.4ZM382.8,213.1L385.8,215.5L382.8,217.9L379.8,215.5Z" fill="#3a5518" stroke="#141d08" stroke-width="0.9" stroke-linejoin="miter"/>
<path d="M411.6,76.5 411.6,77.1 411.6,77.7 411.6,78.3 411.6,78.9 411.6,79.5 411.6,80.1 411.6,80.7 411.6,81.3 411.7,81.9 411.7,82.5 411.7,83.1 411.7,83.7 411.7,84.3 411.7,84.9 411.7,85.5 411.7,86.1 411.7,86.7 411.7,87.3 411.7,87.9 411.7,88.5 411.7,89.1 411.7,89.7 411.7,90.3 411.7,90.9 411.7,91.5 411.7,92.1 411.8,92.7 411.8,93.3 411.8,93.9 411.8,94.5 411.8,95.1 411.8,95.7 411.8,96.3 411.8,96.9 411.8,97.5 411.8,98.1 411.8,98.7 411.8,99.3 411.8,99.9 411.8,100.5 411.8,101.1 411.8,101.7 411.8,102.3 411.8,102.9 411.8,103.5 411.8,104.1 411.8,104.7 411.8,105.3 411.8,105.9 411.8,106.5 411.8,107.1 411.8,107.7 411.8,108.3 411.8,108.9 411.8,109.5 411.8,110.1 411.8,110.7 411.8,111.3 411.8,111.9 411.8,112.5 411.8,113.1 411.8,113.7 411.8,114.3 411.8,114.9 411.8,115.5 411.8,116.1 411.9,116.7 411.9,117.3 411.9,117.9 411.9,118.5 411.9,119.1 411.9,119.7 411.9,120.3 411.9,120.9 411.9,121.5 411.9,122.1 411.9,122.7 411.9,123.3 411.9,123.9 411.9,124.5 411.9,125.1 411.9,125.7 411.9,126.3 412.0,126.9 412.0,127.5 412.0,128.1 412.1,128.7 412.2,129.3 412.2,129.9 412.3,130.5 412.3,131.1 412.4,131.7 412.4,132.3 412.5,132.9 412.5,133.5 412.6,134.1 412.7,134.7 412.7,135.3 412.8,135.9 412.8,136.5 412.9,137.1 413.0,137.7 413.1,138.3 413.1,138.9 413.2,139.5 413.3,140.1 413.4,140.7 413.5,141.3 413.6,141.9 413.7,142.5 413.9,143.1 414.0,143.7 414.1,144.3 414.2,144.9 414.4,145.5 414.5,146.1 414.6,146.7 414.8,147.3 414.9,147.9 415.0,148.5 415.1,149.1 415.3,149.7 415.4,150.3 415.5,150.9 415.6,151.5 415.8,152.1 415.9,152.7 416.0,153.3 416.2,153.9 416.3,154.5 416.4,155.1 416.6,155.7 416.7,156.3 416.9,156.9 417.0,157.5 417.2,158.1 417.4,158.7 417.5,159.3 417.7,159.9 417.9,160.5 418.0,161.1 418.2,161.7 418.4,162.3 418.6,162.9 418.8,163.5 418.9,164.1 419.1,164.7 419.3,165.3 419.5,165.9 419.6,166.5 419.8,167.1 419.9,167.7 420.1,168.3 420.2,168.9 420.4,169.5 420.5,170.1 420.6,170.7 420.7,171.3 420.8,171.9 420.9,172.5 421.0,173.1 421.1,173.7 421.2,174.3 421.3,174.9 421.4,175.5 421.5,176.1 421.5,176.7 421.6,177.3 421.7,177.9 421.8,178.5 421.9,179.1 421.9,179.7 422.0,180.3 422.1,180.9 422.2,181.5 422.2,182.1 422.3,182.7 422.3,183.3 422.4,183.9 422.4,184.5 422.4,185.1 422.5,185.7 422.5,186.3 422.5,186.9 422.5,187.5 422.5,188.1 422.5,188.7 422.5,189.3 422.4,189.9 422.4,190.5 422.4,191.1 422.3,191.7 422.3,192.3 422.2,192.9 422.1,193.5 422.1,194.1 422.0,194.7 421.9,195.3 421.8,195.9 421.7,196.5 421.7,197.1 421.6,197.7 421.5,198.3 421.4,198.9 421.3,199.5 421.2,200.1 421.1,200.7 420.9,201.3 420.8,201.9 420.6,202.5 420.4,203.1 420.2,203.7 420.0,204.3 419.8,204.9 419.5,205.5 419.3,206.1 419.1,206.7 418.9,207.3 418.6,207.9 418.4,208.5 418.2,209.1 418.0,209.7 417.8,210.3 417.6,210.9 417.4,211.5 417.2,212.1 417.1,212.7 416.9,213.3 416.7,213.9 416.5,214.5 416.3,215.1 416.1,215.7 416.0,216.3 415.8,216.9 415.6,217.5 415.5,218.1 415.3,218.7 415.1,219.3 415.0,219.9 414.9,220.5 414.7,221.1 414.6,221.7 414.4,222.3 414.3,222.9 414.1,223.5 414.0,224.1 413.8,224.7 413.7,225.3 413.6,225.9 413.4,226.5 413.3,227.1 413.2,227.7 413.1,228.3 413.0,228.9 412.9,229.5 412.8,230.1 412.8,230.7 412.7,231.3 412.7,231.9 412.6,232.5 412.5,233.1 412.5,233.7 412.4,234.3 412.4,234.9 412.3,235.5 412.3,236.1 412.3,236.7 412.2,237.3 412.2,237.9 412.2,238.5 412.1,239.1 412.1,239.7 412.1,240.3 412.1,240.9 412.1,241.5 412.1,242.1 412.1,242.7 412.1,243.3 412.1,243.9 412.0,244.5 412.0,245.1 412.0,245.7 412.0,246.3 412.0,246.9 412.0,247.5 412.0,248.1 412.0,248.7 412.0,249.3 412.0,249.9 412.0,250.5 412.0,251.1 412.0,251.7 412.0,252.3 412.0,252.9 412.0,253.5 412.0,254.1 412.0,254.7 411.9,255.3 411.9,255.9 411.9,256.5 411.9,257.1 411.9,257.7 411.9,258.3 411.9,258.9 411.9,259.5 411.9,260.1 411.9,260.7 411.9,261.3 411.9,261.9 411.9,262.5 411.9,263.1 411.9,263.7 411.9,264.3 411.9,264.9 411.9,265.5 411.9,266.1 411.9,266.7 411.9,267.3 411.9,267.9 411.9,268.5 411.9,269.1 411.9,269.7 411.9,270.3 411.9,270.9 411.9,271.5 411.9,272.1 411.9,272.7 411.9,273.3 411.9,273.9 411.9,274.5 411.9,275.1 411.9,275.7 411.9,276.3 411.9,276.9 411.9,277.5 411.9,278.1 411.9,278.7 411.9,279.3 411.9,279.9 411.9,280.5 411.9,281.1 411.9,281.7 411.9,282.3 411.9,282.9 411.9,283.5 411.9,284.1 411.9,284.7 411.9,285.3 411.9,285.9 411.9,286.5 411.9,287.1 411.9,287.7 411.9,288.3 411.9,288.9 411.9,289.5 411.9,290.1 411.9,290.7 411.9,291.3 411.9,291.9 411.9,292.5 411.9,293.1 411.9,293.7 411.9,294.3 411.9,294.9 411.9,295.5 411.9,296.1 411.9,296.7 411.9,297.3 411.9,297.9 411.9,298.5 411.9,299.1 411.9,299.7 411.9,300.3 411.9,300.9 411.9,301.5 411.9,302.1 411.9,302.7 411.8,303.3 411.8,303.9 411.8,304.5 411.8,305.1 411.7,305.7 411.7,306.3 411.7,306.9 411.7,307.5 411.6,308.1 411.6,308.7 L411.6,308.7 411.6,308.1 411.5,307.5 411.5,306.9 411.5,306.3 411.5,305.7 411.4,305.1 411.4,304.5 411.4,303.9 411.4,303.3 411.3,302.7 411.3,302.1 411.3,301.5 411.3,300.9 411.3,300.3 411.3,299.7 411.3,299.1 411.3,298.5 411.3,297.9 411.3,297.3 411.3,296.7 411.3,296.1 411.3,295.5 411.3,294.9 411.3,294.3 411.3,293.7 411.3,293.1 411.3,292.5 411.3,291.9 411.3,291.3 411.3,290.7 411.3,290.1 411.3,289.5 411.3,288.9 411.3,288.3 411.3,287.7 411.3,287.1 411.3,286.5 411.3,285.9 411.3,285.3 411.3,284.7 411.3,284.1 411.3,283.5 411.3,282.9 411.3,282.3 411.3,281.7 411.3,281.1 411.3,280.5 411.3,279.9 411.3,279.3 411.3,278.7 411.3,278.1 411.3,277.5 411.3,276.9 411.3,276.3 411.3,275.7 411.3,275.1 411.3,274.5 411.3,273.9 411.3,273.3 411.3,272.7 411.3,272.1 411.3,271.5 411.3,270.9 411.3,270.3 411.3,269.7 411.3,269.1 411.3,268.5 411.3,267.9 411.3,267.3 411.3,266.7 411.3,266.1 411.3,265.5 411.3,264.9 411.3,264.3 411.3,263.7 411.3,263.1 411.3,262.5 411.3,261.9 411.3,261.3 411.3,260.7 411.3,260.1 411.3,259.5 411.3,258.9 411.3,258.3 411.3,257.7 411.3,257.1 411.3,256.5 411.3,255.9 411.3,255.3 411.2,254.7 411.2,254.1 411.2,253.5 411.2,252.9 411.2,252.3 411.2,251.7 411.2,251.1 411.2,250.5 411.2,249.9 411.2,249.3 411.2,248.7 411.2,248.1 411.2,247.5 411.2,246.9 411.2,246.3 411.2,245.7 411.2,245.1 411.2,244.5 411.1,243.9 411.1,243.3 411.1,242.7 411.1,242.1 411.1,241.5 411.1,240.9 411.1,240.3 411.1,239.7 411.1,239.1 411.0,238.5 411.0,237.9 411.0,237.3 410.9,236.7 410.9,236.1 410.9,235.5 410.8,234.9 410.8,234.3 410.7,233.7 410.7,233.1 410.6,232.5 410.5,231.9 410.5,231.3 410.4,230.7 410.4,230.1 410.3,229.5 410.2,228.9 410.1,228.3 410.0,227.7 409.9,227.1 409.8,226.5 409.6,225.9 409.5,225.3 409.4,224.7 409.2,224.1 409.1,223.5 408.9,222.9 408.8,222.3 408.6,221.7 408.5,221.1 408.3,220.5 408.2,219.9 408.1,219.3 407.9,218.7 407.7,218.1 407.6,217.5 407.4,216.9 407.2,216.3 407.1,215.7 406.9,215.1 406.7,214.5 406.5,213.9 406.3,213.3 406.1,212.7 406.0,212.1 405.8,211.5 405.6,210.9 405.4,210.3 405.2,209.7 405.0,209.1 404.8,208.5 404.6,207.9 404.3,207.3 404.1,206.7 403.9,206.1 403.7,205.5 403.4,204.9 403.2,204.3 403.0,203.7 402.8,203.1 402.6,202.5 402.4,201.9 402.3,201.3 402.1,200.7 402.0,200.1 401.9,199.5 401.8,198.9 401.7,198.3 401.6,197.7 401.5,197.1 401.5,196.5 401.4,195.9 401.3,195.3 401.2,194.7 401.1,194.1 401.1,193.5 401.0,192.9 400.9,192.3 400.9,191.7 400.8,191.1 400.8,190.5 400.8,189.9 400.7,189.3 400.7,188.7 400.7,188.1 400.7,187.5 400.7,186.9 400.7,186.3 400.7,185.7 400.8,185.1 400.8,184.5 400.8,183.9 400.9,183.3 400.9,182.7 401.0,182.1 401.0,181.5 401.1,180.9 401.2,180.3 401.3,179.7 401.3,179.1 401.4,178.5 401.5,177.9 401.6,177.3 401.7,176.7 401.7,176.1 401.8,175.5 401.9,174.9 402.0,174.3 402.1,173.7 402.2,173.1 402.3,172.5 402.4,171.9 402.5,171.3 402.6,170.7 402.7,170.1 402.8,169.5 403.0,168.9 403.1,168.3 403.3,167.7 403.4,167.1 403.6,166.5 403.7,165.9 403.9,165.3 404.1,164.7 404.3,164.1 404.4,163.5 404.6,162.9 404.8,162.3 405.0,161.7 405.2,161.1 405.3,160.5 405.5,159.9 405.7,159.3 405.8,158.7 406.0,158.1 406.2,157.5 406.3,156.9 406.5,156.3 406.6,155.7 406.8,155.1 406.9,154.5 407.0,153.9 407.2,153.3 407.3,152.7 407.4,152.1 407.6,151.5 407.7,150.9 407.8,150.3 407.9,149.7 408.1,149.1 408.2,148.5 408.3,147.9 408.4,147.3 408.6,146.7 408.7,146.1 408.8,145.5 409.0,144.9 409.1,144.3 409.2,143.7 409.3,143.1 409.5,142.5 409.6,141.9 409.7,141.3 409.8,140.7 409.9,140.1 410.0,139.5 410.1,138.9 410.1,138.3 410.2,137.7 410.3,137.1 410.4,136.5 410.4,135.9 410.5,135.3 410.5,134.7 410.6,134.1 410.7,133.5 410.7,132.9 410.8,132.3 410.8,131.7 410.9,131.1 410.9,130.5 411.0,129.9 411.0,129.3 411.1,128.7 411.2,128.1 411.2,127.5 411.2,126.9 411.3,126.3 411.3,125.7 411.3,125.1 411.3,124.5 411.3,123.9 411.3,123.3 411.3,122.7 411.3,122.1 411.3,121.5 411.3,120.9 411.3,120.3 411.3,119.7 411.3,119.1 411.3,118.5 411.3,117.9 411.3,117.3 411.3,116.7 411.4,116.1 411.4,115.5 411.4,114.9 411.4,114.3 411.4,113.7 411.4,113.1 411.4,112.5 411.4,111.9 411.4,111.3 411.4,110.7 411.4,110.1 411.4,109.5 411.4,108.9 411.4,108.3 411.4,107.7 411.4,107.1 411.4,106.5 411.4,105.9 411.4,105.3 411.4,104.7 411.4,104.1 411.4,103.5 411.4,102.9 411.4,102.3 411.4,101.7 411.4,101.1 411.4,100.5 411.4,99.9 411.4,99.3 411.4,98.7 411.4,98.1 411.4,97.5 411.4,96.9 411.4,96.3 411.4,95.7 411.4,95.1 411.4,94.5 411.4,93.9 411.4,93.3 411.4,92.7 411.5,92.1 411.5,91.5 411.5,90.9 411.5,90.3 411.5,89.7 411.5,89.1 411.5,88.5 411.5,87.9 411.5,87.3 411.5,86.7 411.5,86.1 411.5,85.5 411.5,84.9 411.5,84.3 411.5,83.7 411.5,83.1 411.5,82.5 411.5,81.9 411.6,81.3 411.6,80.7 411.6,80.1 411.6,79.5 411.6,78.9 411.6,78.3 411.6,77.7 411.6,77.1 411.6,76.5Z" fill="#9dcf76" stroke="#30372e" stroke-width="1.65" stroke-linejoin="round"/>
<path d="M411.6,76.9L414.6,79.3L411.6,81.7L408.6,79.3ZM411.6,150.2L414.6,152.6L411.6,155.0L408.6,152.6ZM411.6,153.4L414.6,155.8L411.6,158.2L408.6,155.8ZM411.6,156.6L414.6,159.0L411.6,161.4L408.6,159.0ZM411.6,159.8L414.6,162.2L411.6,164.6L408.6,162.2ZM411.6,163.0L414.6,165.4L411.6,167.8L408.6,165.4ZM411.6,166.2L414.6,168.6L411.6,171.0L408.6,168.6ZM411.6,169.4L414.6,171.8L411.6,174.2L408.6,171.8ZM411.6,172.7L414.6,175.1L411.6,177.5L408.6,175.1ZM411.6,175.9L414.6,178.3L411.6,180.7L408.6,178.3ZM411.6,179.1L414.6,181.5L411.6,183.9L408.6,181.5ZM411.6,182.3L414.6,184.7L411.6,187.1L408.6,184.7ZM411.6,185.5L414.6,187.9L411.6,190.3L408.6,187.9ZM411.6,188.7L414.6,191.1L411.6,193.5L408.6,191.1ZM411.6,201.2L414.6,203.6L411.6,206.0L408.6,203.6ZM411.6,204.2L414.6,206.6L411.6,209.0L408.6,206.6ZM411.6,207.2L414.6,209.6L411.6,212.0L408.6,209.6ZM411.6,210.2L414.6,212.6L411.6,215.0L408.6,212.6ZM411.6,213.3L414.6,215.7L411.6,218.1L408.6,215.7ZM411.6,216.3L414.6,218.7L411.6,221.1L408.6,218.7ZM411.6,219.3L414.6,221.7L411.6,224.1L408.6,221.7ZM411.6,222.3L414.6,224.7L411.6,227.1L408.6,224.7ZM411.6,238.2L414.6,240.6L411.6,243.0L408.6,240.6ZM411.6,240.8L414.6,243.2L411.6,245.7L408.6,243.2ZM411.6,243.5L414.6,245.9L411.6,248.3L408.6,245.9ZM411.6,287.6L414.6,290.0L411.6,292.4L408.6,290.0Z" fill="#1c261b" stroke="#090d09" stroke-width="0.9" stroke-linejoin="miter"/>
<path d="M440.4,72.5 440.4,73.1 440.4,73.7 440.4,74.3 440.4,74.9 440.4,75.5 440.4,76.1 440.4,76.7 440.4,77.3 440.4,77.9 440.4,78.5 440.4,79.1 440.4,79.7 440.4,80.3 440.4,80.9 440.4,81.5 440.5,82.1 440.5,82.7 440.5,83.3 440.5,83.9 440.5,84.5 440.5,85.1 440.5,85.7 440.5,86.3 440.5,86.9 440.5,87.5 440.5,88.1 440.5,88.7 440.5,89.3 440.5,89.9 440.5,90.5 440.5,91.1 440.5,91.7 440.5,92.3 440.5,92.9 440.5,93.5 440.5,94.1 440.5,94.7 440.5,95.3 440.5,95.9 440.5,96.5 440.5,97.1 440.5,97.7 440.5,98.3 440.5,98.9 440.5,99.5 440.5,100.1 440.6,100.7 440.6,101.3 440.6,101.9 440.6,102.5 440.6,103.1 440.6,103.7 440.6,104.3 440.6,104.9 440.6,105.5 440.6,106.1 440.6,106.7 440.6,107.3 440.6,107.9 440.6,108.5 440.6,109.1 440.6,109.7 440.6,110.3 440.6,110.9 440.6,111.5 440.6,112.1 440.6,112.7 440.6,113.3 440.6,113.9 440.6,114.5 440.6,115.1 440.6,115.7 440.6,116.3 440.6,116.9 440.6,117.5 440.6,118.1 440.6,118.7 440.6,119.3 440.6,119.9 440.6,120.5 440.6,121.1 440.6,121.7 440.6,122.3 440.7,122.9 440.7,123.5 440.7,124.1 440.7,124.7 440.7,125.3 440.7,125.9 440.7,126.5 440.7,127.1 440.7,127.7 440.7,128.3 440.7,128.9 440.7,129.5 440.7,130.1 440.7,130.7 440.7,131.3 440.7,131.9 440.8,132.5 440.8,133.1 440.8,133.7 440.8,134.3 440.8,134.9 440.9,135.5 440.9,136.1 441.0,136.7 441.0,137.3 441.0,137.9 441.1,138.5 441.1,139.1 441.2,139.7 441.2,140.3 441.3,140.9 441.4,141.5 441.4,142.1 441.5,142.7 441.6,143.3 441.6,143.9 441.8,144.5 441.9,145.1 442.2,145.7 442.4,146.3 442.7,146.9 443.0,147.5 443.3,148.1 443.6,148.7 443.9,149.3 444.2,149.9 444.4,150.5 444.7,151.1 444.9,151.7 445.1,152.3 445.3,152.9 445.4,153.5 445.6,154.1 445.8,154.7 445.9,155.3 446.1,155.9 446.2,156.5 446.4,157.1 446.5,157.7 446.6,158.3 446.8,158.9 446.9,159.5 447.0,160.1 447.2,160.7 447.3,161.3 447.4,161.9 447.6,162.5 447.7,163.1 447.9,163.7 448.0,164.3 448.1,164.9 448.3,165.5 448.4,166.1 448.6,166.7 448.7,167.3 448.9,167.9 449.0,168.5 449.2,169.1 449.4,169.7 449.5,170.3 449.7,170.9 449.8,171.5 450.0,172.1 450.1,172.7 450.3,173.3 450.4,173.9 450.5,174.5 450.7,175.1 450.8,175.7 450.9,176.3 451.1,176.9 451.2,177.5 451.3,178.1 451.4,178.7 451.5,179.3 451.6,179.9 451.7,180.5 451.7,181.1 451.8,181.7 451.9,182.3 452.0,182.9 452.0,183.5 452.1,184.1 452.2,184.7 452.2,185.3 452.2,185.9 452.2,186.5 452.2,187.1 452.1,187.7 452.1,188.3 452.0,188.9 452.0,189.5 451.9,190.1 451.8,190.7 451.7,191.3 451.6,191.9 451.5,192.5 451.4,193.1 451.3,193.7 451.2,194.3 451.1,194.9 450.9,195.5 450.7,196.1 450.4,196.7 450.2,197.3 449.9,197.9 449.6,198.5 449.4,199.1 449.1,199.7 448.9,200.3 448.7,200.9 448.5,201.5 448.2,202.1 448.0,202.7 447.8,203.3 447.6,203.9 447.4,204.5 447.2,205.1 447.0,205.7 446.8,206.3 446.6,206.9 446.4,207.5 446.2,208.1 446.0,208.7 445.8,209.3 445.6,209.9 445.5,210.5 445.3,211.1 445.1,211.7 444.9,212.3 444.8,212.9 444.6,213.5 444.4,214.1 444.3,214.7 444.1,215.3 444.0,215.9 443.8,216.5 443.7,217.1 443.5,217.7 443.4,218.3 443.3,218.9 443.1,219.5 443.0,220.1 442.9,220.7 442.8,221.3 442.7,221.9 442.7,222.5 442.6,223.1 442.5,223.7 442.4,224.3 442.3,224.9 442.3,225.5 442.2,226.1 442.1,226.7 442.0,227.3 442.0,227.9 441.9,228.5 441.8,229.1 441.8,229.7 441.7,230.3 441.7,230.9 441.6,231.5 441.5,232.1 441.5,232.7 441.4,233.3 441.3,233.9 441.2,234.5 441.2,235.1 441.1,235.7 441.1,236.3 441.0,236.9 440.9,237.5 440.9,238.1 440.9,238.7 440.8,239.3 440.8,239.9 440.8,240.5 440.8,241.1 440.8,241.7 440.8,242.3 440.8,242.9 440.8,243.5 440.8,244.1 440.8,244.7 440.8,245.3 440.8,245.9 440.8,246.5 440.8,247.1 440.8,247.7 440.8,248.3 440.8,248.9 440.8,249.5 440.8,250.1 440.8,250.7 440.8,251.3 440.8,251.9 440.8,252.5 440.8,253.1 440.8,253.7 440.8,254.3 440.8,254.9 440.8,255.5 440.8,256.1 440.8,256.7 440.8,257.3 440.8,257.9 440.8,258.5 440.8,259.1 440.8,259.7 440.8,260.3 440.8,260.9 440.7,261.5 440.7,262.1 440.7,262.7 440.7,263.3 440.7,263.9 440.7,264.5 440.7,265.1 440.7,265.7 440.7,266.3 440.7,266.9 440.7,267.5 440.7,268.1 440.7,268.7 440.7,269.3 440.7,269.9 440.7,270.5 440.7,271.1 440.7,271.7 440.7,272.3 440.7,272.9 440.7,273.5 440.7,274.1 440.7,274.7 440.7,275.3 440.7,275.9 440.7,276.5 440.7,277.1 440.7,277.7 440.7,278.3 440.7,278.9 440.7,279.5 440.7,280.1 440.7,280.7 440.7,281.3 440.6,281.9 440.6,282.5 440.6,283.1 440.6,283.7 440.5,284.3 440.5,284.9 440.4,285.5 440.4,286.1 440.4,286.2 L440.4,286.2 440.4,286.1 440.4,285.5 440.3,284.9 440.3,284.3 440.2,283.7 440.2,283.1 440.2,282.5 440.2,281.9 440.1,281.3 440.1,280.7 440.1,280.1 440.1,279.5 440.1,278.9 440.1,278.3 440.1,277.7 440.1,277.1 440.1,276.5 440.1,275.9 440.1,275.3 440.1,274.7 440.1,274.1 440.1,273.5 440.1,272.9 440.1,272.3 440.1,271.7 440.1,271.1 440.1,270.5 440.1,269.9 440.1,269.3 440.1,268.7 440.1,268.1 440.1,267.5 440.1,266.9 440.1,266.3 440.1,265.7 440.1,265.1 440.1,264.5 440.1,263.9 440.1,263.3 440.1,262.7 440.1,262.1 440.1,261.5 440.0,260.9 440.0,260.3 440.0,259.7 440.0,259.1 440.0,258.5 440.0,257.9 440.0,257.3 440.0,256.7 440.0,256.1 440.0,255.5 440.0,254.9 440.0,254.3 440.0,253.7 440.0,253.1 440.0,252.5 440.0,251.9 440.0,251.3 440.0,250.7 440.0,250.1 440.0,249.5 440.0,248.9 440.0,248.3 440.0,247.7 440.0,247.1 440.0,246.5 440.0,245.9 440.0,245.3 440.0,244.7 440.0,244.1 440.0,243.5 440.0,242.9 440.0,242.3 440.0,241.7 440.0,241.1 440.0,240.5 440.0,239.9 440.0,239.3 439.9,238.7 439.9,238.1 439.9,237.5 439.8,236.9 439.7,236.3 439.7,235.7 439.6,235.1 439.6,234.5 439.5,233.9 439.4,233.3 439.3,232.7 439.3,232.1 439.2,231.5 439.1,230.9 439.1,230.3 439.0,229.7 439.0,229.1 438.9,228.5 438.8,227.9 438.8,227.3 438.7,226.7 438.6,226.1 438.5,225.5 438.5,224.9 438.4,224.3 438.3,223.7 438.2,223.1 438.1,222.5 438.1,221.9 438.0,221.3 437.9,220.7 437.8,220.1 437.7,219.5 437.5,218.9 437.4,218.3 437.3,217.7 437.1,217.1 437.0,216.5 436.8,215.9 436.7,215.3 436.5,214.7 436.4,214.1 436.2,213.5 436.0,212.9 435.9,212.3 435.7,211.7 435.5,211.1 435.3,210.5 435.2,209.9 435.0,209.3 434.8,208.7 434.6,208.1 434.4,207.5 434.2,206.9 434.0,206.3 433.8,205.7 433.6,205.1 433.4,204.5 433.2,203.9 433.0,203.3 432.8,202.7 432.6,202.1 432.3,201.5 432.1,200.9 431.9,200.3 431.7,199.7 431.4,199.1 431.2,198.5 430.9,197.9 430.6,197.3 430.4,196.7 430.1,196.1 429.9,195.5 429.7,194.9 429.6,194.3 429.5,193.7 429.4,193.1 429.3,192.5 429.2,191.9 429.1,191.3 429.0,190.7 428.9,190.1 428.8,189.5 428.8,188.9 428.7,188.3 428.7,187.7 428.6,187.1 428.6,186.5 428.6,185.9 428.6,185.3 428.6,184.7 428.7,184.1 428.8,183.5 428.8,182.9 428.9,182.3 429.0,181.7 429.1,181.1 429.1,180.5 429.2,179.9 429.3,179.3 429.4,178.7 429.5,178.1 429.6,177.5 429.7,176.9 429.9,176.3 430.0,175.7 430.1,175.1 430.3,174.5 430.4,173.9 430.5,173.3 430.7,172.7 430.8,172.1 431.0,171.5 431.1,170.9 431.3,170.3 431.4,169.7 431.6,169.1 431.8,168.5 431.9,167.9 432.1,167.3 432.2,166.7 432.4,166.1 432.5,165.5 432.7,164.9 432.8,164.3 432.9,163.7 433.1,163.1 433.2,162.5 433.4,161.9 433.5,161.3 433.6,160.7 433.8,160.1 433.9,159.5 434.0,158.9 434.2,158.3 434.3,157.7 434.4,157.1 434.6,156.5 434.7,155.9 434.9,155.3 435.0,154.7 435.2,154.1 435.4,153.5 435.5,152.9 435.7,152.3 435.9,151.7 436.1,151.1 436.4,150.5 436.6,149.9 436.9,149.3 437.2,148.7 437.5,148.1 437.8,147.5 438.1,146.9 438.4,146.3 438.6,145.7 438.9,145.1 439.0,144.5 439.2,143.9 439.2,143.3 439.3,142.7 439.4,142.1 439.4,141.5 439.5,140.9 439.6,140.3 439.6,139.7 439.7,139.1 439.7,138.5 439.8,137.9 439.8,137.3 439.8,136.7 439.9,136.1 439.9,135.5 440.0,134.9 440.0,134.3 440.0,133.7 440.0,133.1 440.0,132.5 440.1,131.9 440.1,131.3 440.1,130.7 440.1,130.1 440.1,129.5 440.1,128.9 440.1,128.3 440.1,127.7 440.1,127.1 440.1,126.5 440.1,125.9 440.1,125.3 440.1,124.7 440.1,124.1 440.1,123.5 440.1,122.9 440.2,122.3 440.2,121.7 440.2,121.1 440.2,120.5 440.2,119.9 440.2,119.3 440.2,118.7 440.2,118.1 440.2,117.5 440.2,116.9 440.2,116.3 440.2,115.7 440.2,115.1 440.2,114.5 440.2,113.9 440.2,113.3 440.2,112.7 440.2,112.1 440.2,111.5 440.2,110.9 440.2,110.3 440.2,109.7 440.2,109.1 440.2,108.5 440.2,107.9 440.2,107.3 440.2,106.7 440.2,106.1 440.2,105.5 440.2,104.9 440.2,104.3 440.2,103.7 440.2,103.1 440.2,102.5 440.2,101.9 440.2,101.3 440.2,100.7 440.3,100.1 440.3,99.5 440.3,98.9 440.3,98.3 440.3,97.7 440.3,97.1 440.3,96.5 440.3,95.9 440.3,95.3 440.3,94.7 440.3,94.1 440.3,93.5 440.3,92.9 440.3,92.3 440.3,91.7 440.3,91.1 440.3,90.5 440.3,89.9 440.3,89.3 440.3,88.7 440.3,88.1 440.3,87.5 440.3,86.9 440.3,86.3 440.3,85.7 440.3,85.1 440.3,84.5 440.3,83.9 440.3,83.3 440.3,82.7 440.3,82.1 440.4,81.5 440.4,80.9 440.4,80.3 440.4,79.7 440.4,79.1 440.4,78.5 440.4,77.9 440.4,77.3 440.4,76.7 440.4,76.1 440.4,75.5 440.4,74.9 440.4,74.3 440.4,73.7 440.4,73.1 440.4,72.5Z" fill="#9dcf76" stroke="#30372e" stroke-width="1.65" stroke-linejoin="round"/>
<path d="M440.4,73.9L443.4,76.3L440.4,78.7L437.4,76.3ZM440.4,147.1L443.4,149.5L440.4,151.9L437.4,149.5ZM440.4,160.6L443.4,163.0L440.4,165.4L437.4,163.0ZM440.4,163.6L443.4,166.0L440.4,168.4L437.4,166.0ZM440.4,166.6L443.4,169.0L440.4,171.4L437.4,169.0ZM440.4,169.7L443.4,172.1L440.4,174.5L437.4,172.1ZM440.4,172.7L443.4,175.1L440.4,177.5L437.4,175.1ZM440.4,175.7L443.4,178.1L440.4,180.5L437.4,178.1ZM440.4,178.7L443.4,181.1L440.4,183.5L437.4,181.1ZM440.4,181.7L443.4,184.1L440.4,186.5L437.4,184.1ZM440.4,184.7L443.4,187.1L440.4,189.5L437.4,187.1ZM440.4,187.8L443.4,190.2L440.4,192.6L437.4,190.2ZM440.4,190.8L443.4,193.2L440.4,195.6L437.4,193.2ZM440.4,193.8L443.4,196.2L440.4,198.6L437.4,196.2ZM440.4,203.8L443.4,206.2L440.4,208.6L437.4,206.2ZM440.4,206.7L443.4,209.1L440.4,211.5L437.4,209.1ZM440.4,209.7L443.4,212.1L440.4,214.5L437.4,212.1ZM440.4,212.6L443.4,215.0L440.4,217.4L437.4,215.0ZM440.4,215.5L443.4,217.9L440.4,220.3L437.4,217.9ZM440.4,218.5L443.4,220.9L440.4,223.3L437.4,220.9ZM440.4,221.4L443.4,223.8L440.4,226.2L437.4,223.8ZM440.4,232.3L443.4,234.7L440.4,237.1L437.4,234.7ZM440.4,256.9L443.4,259.3L440.4,261.7L437.4,259.3Z" fill="#a3141a" stroke="#390709" stroke-width="0.9" stroke-linejoin="miter"/>
<path d="M469.2,127.0 469.2,127.6 469.2,128.2 469.2,128.8 469.2,129.4 469.2,130.0 469.3,130.6 469.3,131.2 469.3,131.8 469.3,132.4 469.3,133.0 469.3,133.6 469.3,134.2 469.3,134.8 469.4,135.4 469.4,136.0 469.4,136.6 469.4,137.2 469.4,137.8 469.5,138.4 469.5,139.0 469.5,139.6 469.5,140.2 469.5,140.8 469.5,141.4 469.6,142.0 469.6,142.6 469.6,143.2 469.6,143.8 469.7,144.4 469.7,145.0 469.7,145.6 469.7,146.2 469.8,146.8 469.8,147.4 469.9,148.0 470.0,148.6 470.1,149.2 470.2,149.8 470.3,150.4 470.4,151.0 470.5,151.6 470.6,152.2 470.8,152.8 470.9,153.4 471.1,154.0 471.2,154.6 471.4,155.2 471.6,155.8 471.7,156.4 471.9,157.0 472.1,157.6 472.3,158.2 472.5,158.8 472.7,159.4 472.9,160.0 473.1,160.6 473.3,161.2 473.5,161.8 473.7,162.4 473.9,163.0 474.1,163.6 474.3,164.2 474.4,164.8 474.5,165.4 474.7,166.0 474.8,166.6 474.9,167.2 475.0,167.8 475.1,168.4 475.3,169.0 475.4,169.6 475.5,170.2 475.7,170.8 475.8,171.4 476.0,172.0 476.2,172.6 476.4,173.2 476.6,173.8 476.8,174.4 477.1,175.0 477.3,175.6 477.5,176.2 477.8,176.8 478.0,177.4 478.2,178.0 478.4,178.6 478.6,179.2 478.8,179.8 478.9,180.4 479.0,181.0 479.1,181.6 479.2,182.2 479.3,182.8 479.4,183.4 479.4,184.0 479.5,184.6 479.5,185.2 479.6,185.8 479.7,186.4 479.7,187.0 479.8,187.6 479.8,188.2 479.9,188.8 479.9,189.4 479.9,190.0 480.0,190.6 480.0,191.2 480.0,191.8 480.1,192.4 480.1,193.0 480.1,193.6 480.1,194.2 480.1,194.8 480.1,195.4 480.1,196.0 480.1,196.6 480.0,197.2 480.0,197.8 479.9,198.4 479.9,199.0 479.8,199.6 479.8,200.2 479.7,200.8 479.6,201.4 479.5,202.0 479.4,202.6 479.3,203.2 479.1,203.8 478.9,204.4 478.7,205.0 478.5,205.6 478.3,206.2 478.0,206.8 477.8,207.4 477.6,208.0 477.4,208.6 477.2,209.2 477.1,209.8 476.9,210.4 476.7,211.0 476.6,211.6 476.4,212.2 476.2,212.8 476.1,213.4 475.9,214.0 475.7,214.6 475.6,215.2 475.4,215.8 475.2,216.4 475.1,217.0 474.9,217.6 474.7,218.2 474.6,218.8 474.4,219.4 474.2,220.0 474.1,220.6 473.9,221.2 473.7,221.8 473.5,222.4 473.3,223.0 473.1,223.6 472.9,224.2 472.7,224.8 472.6,225.4 472.4,226.0 472.2,226.6 472.0,227.2 471.8,227.8 471.7,228.4 471.6,229.0 471.4,229.6 471.3,230.2 471.3,230.8 471.2,231.4 471.1,232.0 471.0,232.6 471.0,233.2 470.9,233.8 470.9,234.4 470.8,235.0 470.8,235.6 470.7,236.2 470.7,236.8 470.6,237.4 470.6,238.0 470.5,238.6 470.5,239.2 470.5,239.8 470.4,240.4 470.4,241.0 470.3,241.6 470.3,242.2 470.2,242.8 470.2,243.4 470.2,244.0 470.1,244.6 470.1,245.2 470.0,245.8 470.0,246.4 469.9,247.0 469.9,247.6 469.9,248.2 469.8,248.8 469.8,249.4 469.8,250.0 469.7,250.6 469.7,251.2 469.7,251.8 469.7,252.4 469.6,253.0 469.6,253.6 469.6,254.2 469.6,254.8 469.6,255.4 469.6,256.0 469.6,256.6 469.6,257.2 469.6,257.8 469.6,258.4 469.6,259.0 469.6,259.6 469.6,260.2 469.6,260.8 469.6,261.4 469.6,262.0 469.6,262.6 469.6,263.2 469.6,263.8 469.6,264.4 469.6,265.0 469.6,265.6 469.6,266.2 469.6,266.8 469.5,267.4 469.5,268.0 469.5,268.6 469.5,269.2 469.5,269.8 469.5,270.4 469.5,271.0 469.5,271.6 469.5,272.2 469.5,272.8 469.5,273.4 469.5,274.0 469.5,274.6 469.5,275.2 469.5,275.8 469.5,276.4 469.5,277.0 469.5,277.6 469.5,278.2 469.5,278.8 469.5,279.4 469.5,280.0 469.5,280.6 469.5,281.2 469.5,281.8 469.5,282.4 469.5,283.0 469.5,283.6 469.5,284.2 469.5,284.8 469.5,285.4 469.5,286.0 469.5,286.6 469.5,287.2 469.5,287.8 469.5,288.4 469.5,289.0 469.5,289.6 469.5,290.2 469.5,290.8 469.5,291.4 469.5,292.0 469.5,292.6 469.5,293.2 469.5,293.8 469.5,294.4 469.5,295.0 469.5,295.6 469.5,296.2 469.5,296.8 469.5,297.4 469.5,298.0 469.5,298.6 469.5,299.2 469.5,299.8 469.5,300.4 469.5,301.0 469.5,301.6 469.5,302.2 469.5,302.8 469.5,303.4 469.5,304.0 469.5,304.6 469.5,305.2 469.5,305.8 469.5,306.4 469.5,307.0 469.5,307.6 469.5,308.2 469.5,308.8 469.5,309.4 469.5,310.0 469.5,310.6 469.5,311.2 469.5,311.8 469.5,312.4 469.5,313.0 469.5,313.6 469.5,314.2 469.5,314.8 469.5,315.4 469.5,316.0 469.5,316.6 469.5,317.2 469.5,317.8 469.5,318.4 469.5,319.0 469.5,319.6 469.5,320.2 469.5,320.8 469.5,321.4 469.5,322.0 469.5,322.6 469.5,323.2 469.5,323.8 469.5,324.4 469.5,325.0 469.5,325.6 469.5,326.2 469.5,326.8 469.5,327.4 469.5,328.0 469.5,328.6 469.5,329.2 469.5,329.8 469.5,330.4 469.5,331.0 469.5,331.6 469.5,332.2 469.5,332.8 469.5,333.4 469.5,334.0 469.5,334.6 469.5,335.2 469.5,335.8 469.5,336.4 469.5,337.0 469.4,337.6 469.4,338.2 469.4,338.8 469.3,339.4 469.3,340.0 469.2,340.6 469.2,341.2 L469.2,341.2 469.2,340.6 469.1,340.0 469.1,339.4 469.0,338.8 469.0,338.2 469.0,337.6 468.9,337.0 468.9,336.4 468.9,335.8 468.9,335.2 468.9,334.6 468.9,334.0 468.9,333.4 468.9,332.8 468.9,332.2 468.9,331.6 468.9,331.0 468.9,330.4 468.9,329.8 468.9,329.2 468.9,328.6 468.9,328.0 468.9,327.4 468.9,326.8 468.9,326.2 468.9,325.6 468.9,325.0 468.9,324.4 468.9,323.8 468.9,323.2 468.9,322.6 468.9,322.0 468.9,321.4 468.9,320.8 468.9,320.2 468.9,319.6 468.9,319.0 468.9,318.4 468.9,317.8 468.9,317.2 468.9,316.6 468.9,316.0 468.9,315.4 468.9,314.8 468.9,314.2 468.9,313.6 468.9,313.0 468.9,312.4 468.9,311.8 468.9,311.2 468.9,310.6 468.9,310.0 468.9,309.4 468.9,308.8 468.9,308.2 468.9,307.6 468.9,307.0 468.9,306.4 468.9,305.8 468.9,305.2 468.9,304.6 468.9,304.0 468.9,303.4 468.9,302.8 468.9,302.2 468.9,301.6 468.9,301.0 468.9,300.4 468.9,299.8 468.9,299.2 468.9,298.6 468.9,298.0 468.9,297.4 468.9,296.8 468.9,296.2 468.9,295.6 468.9,295.0 468.9,294.4 468.9,293.8 468.9,293.2 468.9,292.6 468.9,292.0 468.9,291.4 468.9,290.8 468.9,290.2 468.9,289.6 468.9,289.0 468.9,288.4 468.9,287.8 468.9,287.2 468.9,286.6 468.9,286.0 468.9,285.4 468.9,284.8 468.9,284.2 468.9,283.6 468.9,283.0 468.9,282.4 468.9,281.8 468.9,281.2 468.9,280.6 468.9,280.0 468.9,279.4 468.9,278.8 468.9,278.2 468.9,277.6 468.9,277.0 468.9,276.4 468.9,275.8 468.9,275.2 468.9,274.6 468.9,274.0 468.9,273.4 468.9,272.8 468.9,272.2 468.9,271.6 468.9,271.0 468.9,270.4 468.9,269.8 468.9,269.2 468.9,268.6 468.9,268.0 468.9,267.4 468.8,266.8 468.8,266.2 468.8,265.6 468.8,265.0 468.8,264.4 468.8,263.8 468.8,263.2 468.8,262.6 468.8,262.0 468.8,261.4 468.8,260.8 468.8,260.2 468.8,259.6 468.8,259.0 468.8,258.4 468.8,257.8 468.8,257.2 468.8,256.6 468.8,256.0 468.8,255.4 468.8,254.8 468.8,254.2 468.8,253.6 468.8,253.0 468.7,252.4 468.7,251.8 468.7,251.2 468.7,250.6 468.6,250.0 468.6,249.4 468.6,248.8 468.5,248.2 468.5,247.6 468.5,247.0 468.4,246.4 468.4,245.8 468.3,245.2 468.3,244.6 468.2,244.0 468.2,243.4 468.2,242.8 468.1,242.2 468.1,241.6 468.0,241.0 468.0,240.4 467.9,239.8 467.9,239.2 467.9,238.6 467.8,238.0 467.8,237.4 467.7,236.8 467.7,236.2 467.6,235.6 467.6,235.0 467.5,234.4 467.5,233.8 467.4,233.2 467.4,232.6 467.3,232.0 467.2,231.4 467.1,230.8 467.1,230.2 467.0,229.6 466.8,229.0 466.7,228.4 466.6,227.8 466.4,227.2 466.2,226.6 466.0,226.0 465.8,225.4 465.7,224.8 465.5,224.2 465.3,223.6 465.1,223.0 464.9,222.4 464.7,221.8 464.5,221.2 464.3,220.6 464.2,220.0 464.0,219.4 463.8,218.8 463.7,218.2 463.5,217.6 463.3,217.0 463.2,216.4 463.0,215.8 462.8,215.2 462.7,214.6 462.5,214.0 462.3,213.4 462.2,212.8 462.0,212.2 461.8,211.6 461.7,211.0 461.5,210.4 461.3,209.8 461.2,209.2 461.0,208.6 460.8,208.0 460.6,207.4 460.4,206.8 460.1,206.2 459.9,205.6 459.7,205.0 459.5,204.4 459.3,203.8 459.1,203.2 459.0,202.6 458.9,202.0 458.8,201.4 458.7,200.8 458.6,200.2 458.6,199.6 458.5,199.0 458.5,198.4 458.4,197.8 458.4,197.2 458.3,196.6 458.3,196.0 458.3,195.4 458.3,194.8 458.3,194.2 458.3,193.6 458.3,193.0 458.3,192.4 458.4,191.8 458.4,191.2 458.4,190.6 458.5,190.0 458.5,189.4 458.5,188.8 458.6,188.2 458.6,187.6 458.7,187.0 458.7,186.4 458.8,185.8 458.9,185.2 458.9,184.6 459.0,184.0 459.0,183.4 459.1,182.8 459.2,182.2 459.3,181.6 459.4,181.0 459.5,180.4 459.6,179.8 459.8,179.2 460.0,178.6 460.2,178.0 460.4,177.4 460.6,176.8 460.9,176.2 461.1,175.6 461.3,175.0 461.6,174.4 461.8,173.8 462.0,173.2 462.2,172.6 462.4,172.0 462.6,171.4 462.7,170.8 462.9,170.2 463.0,169.6 463.1,169.0 463.3,168.4 463.4,167.8 463.5,167.2 463.6,166.6 463.7,166.0 463.9,165.4 464.0,164.8 464.1,164.2 464.3,163.6 464.5,163.0 464.7,162.4 464.9,161.8 465.1,161.2 465.3,160.6 465.5,160.0 465.7,159.4 465.9,158.8 466.1,158.2 466.3,157.6 466.5,157.0 466.7,156.4 466.8,155.8 467.0,155.2 467.2,154.6 467.3,154.0 467.5,153.4 467.6,152.8 467.8,152.2 467.9,151.6 468.0,151.0 468.1,150.4 468.2,149.8 468.3,149.2 468.4,148.6 468.5,148.0 468.6,147.4 468.6,146.8 468.7,146.2 468.7,145.6 468.7,145.0 468.7,144.4 468.8,143.8 468.8,143.2 468.8,142.6 468.8,142.0 468.9,141.4 468.9,140.8 468.9,140.2 468.9,139.6 468.9,139.0 468.9,138.4 469.0,137.8 469.0,137.2 469.0,136.6 469.0,136.0 469.0,135.4 469.1,134.8 469.1,134.2 469.1,133.6 469.1,133.0 469.1,132.4 469.1,131.8 469.1,131.2 469.1,130.6 469.2,130.0 469.2,129.4 469.2,128.8 469.2,128.2 469.2,127.6 469.2,127.0Z" fill="#9dcf76" stroke="#30372e" stroke-width="1.65" stroke-linejoin="round"/>
<path d="M469.2,158.2L472.2,160.6L469.2,163.0L466.2,160.6ZM469.2,166.5L472.2,168.9L469.2,171.3L466.2,168.9ZM469.2,173.4L472.2,175.8L469.2,178.2L466.2,175.8ZM469.2,179.2L472.2,181.6L469.2,184.0L466.2,181.6ZM469.2,182.1L472.2,184.5L469.2,186.9L466.2,184.5ZM469.2,185.0L472.2,187.4L469.2,189.8L466.2,187.4ZM469.2,187.8L472.2,190.2L469.2,192.7L466.2,190.2ZM469.2,190.7L472.2,193.1L469.2,195.5L466.2,193.1ZM469.2,193.6L472.2,196.0L469.2,198.4L466.2,196.0ZM469.2,196.5L472.2,198.9L469.2,201.3L466.2,198.9ZM469.2,203.2L472.2,205.6L469.2,208.0L466.2,205.6ZM469.2,206.2L472.2,208.6L469.2,211.0L466.2,208.6ZM469.2,209.2L472.2,211.6L469.2,214.0L466.2,211.6ZM469.2,212.1L472.2,214.5L469.2,216.9L466.2,214.5ZM469.2,215.1L472.2,217.5L469.2,219.9L466.2,217.5ZM469.2,218.1L472.2,220.5L469.2,222.9L466.2,220.5ZM469.2,221.1L472.2,223.5L469.2,225.9L466.2,223.5ZM469.2,224.0L472.2,226.4L469.2,228.8L466.2,226.4ZM469.2,227.0L472.2,229.4L469.2,231.8L466.2,229.4ZM469.2,230.0L472.2,232.4L469.2,234.8L466.2,232.4ZM469.2,247.6L472.2,250.0L469.2,252.4L466.2,250.0ZM469.2,256.1L472.2,258.5L469.2,260.9L466.2,258.5ZM469.2,323.1L472.2,325.5L469.2,327.9L466.2,325.5Z" fill="#16306e" stroke="#071026" stroke-width="0.9" stroke-linejoin="miter"/>
<path d="M498.0,127.9 498.0,128.5 498.0,129.1 498.0,129.7 498.0,130.3 498.1,130.9 498.1,131.5 498.1,132.1 498.1,132.7 498.1,133.3 498.1,133.9 498.1,134.5 498.1,135.1 498.1,135.7 498.1,136.3 498.2,136.9 498.2,137.5 498.2,138.1 498.2,138.7 498.2,139.3 498.2,139.9 498.2,140.5 498.2,141.1 498.2,141.7 498.2,142.3 498.2,142.9 498.2,143.5 498.2,144.1 498.3,144.7 498.3,145.3 498.3,145.9 498.3,146.5 498.3,147.1 498.3,147.7 498.3,148.3 498.3,148.9 498.3,149.5 498.3,150.1 498.3,150.7 498.3,151.3 498.3,151.9 498.3,152.5 498.3,153.1 498.3,153.7 498.3,154.3 498.3,154.9 498.3,155.5 498.3,156.1 498.3,156.7 498.3,157.3 498.3,157.9 498.3,158.5 498.3,159.1 498.3,159.7 498.3,160.3 498.3,160.9 498.3,161.5 498.3,162.1 498.4,162.7 498.4,163.3 498.4,163.9 498.4,164.5 498.4,165.1 498.4,165.7 498.4,166.3 498.4,166.9 498.4,167.5 498.4,168.1 498.4,168.7 498.4,169.3 498.4,169.9 498.4,170.5 498.4,171.1 498.4,171.7 498.5,172.3 498.5,172.9 498.5,173.5 498.5,174.1 498.6,174.7 498.6,175.3 498.8,175.9 499.0,176.5 499.3,177.1 499.6,177.7 500.0,178.3 500.3,178.9 500.7,179.5 501.1,180.1 501.6,180.7 502.1,181.3 502.6,181.9 503.2,182.5 503.8,183.1 504.4,183.7 505.0,184.3 505.5,184.9 505.9,185.5 506.3,186.1 506.8,186.7 507.2,187.3 507.6,187.9 508.0,188.5 508.3,189.1 508.6,189.7 508.7,190.3 508.8,190.9 508.7,191.5 508.5,192.1 508.2,192.7 507.8,193.3 507.3,193.9 506.8,194.5 506.3,195.1 505.7,195.7 505.2,196.3 504.8,196.9 504.3,197.5 503.7,198.1 503.2,198.7 502.6,199.3 502.1,199.9 501.6,200.5 501.2,201.1 500.9,201.7 500.6,202.3 500.3,202.9 500.1,203.5 499.9,204.1 499.7,204.7 499.6,205.3 499.6,205.9 499.6,206.5 499.5,207.1 499.5,207.7 499.5,208.3 499.5,208.9 499.5,209.5 499.5,210.1 499.5,210.7 499.5,211.3 499.5,211.9 499.5,212.5 499.5,213.1 499.5,213.7 499.5,214.3 499.5,214.9 499.5,215.5 499.5,216.1 499.5,216.7 499.5,217.3 499.4,217.9 499.4,218.5 499.4,219.1 499.4,219.7 499.4,220.3 499.4,220.9 499.4,221.5 499.4,222.1 499.3,222.7 499.2,223.3 499.1,223.9 499.0,224.5 498.9,225.1 498.8,225.7 498.8,226.3 498.7,226.9 498.6,227.5 498.6,228.1 498.5,228.7 498.5,229.3 498.4,229.9 498.4,230.5 498.3,231.1 498.3,231.7 498.2,232.3 498.2,232.9 498.1,233.5 498.1,234.1 498.1,234.7 498.0,235.3 498.0,235.9 498.0,236.5 498.0,237.1 498.0,237.7 498.0,237.8 L498.0,237.8 498.0,237.7 498.0,237.1 498.0,236.5 498.0,235.9 498.0,235.3 497.9,234.7 497.9,234.1 497.9,233.5 497.8,232.9 497.8,232.3 497.7,231.7 497.7,231.1 497.6,230.5 497.6,229.9 497.5,229.3 497.5,228.7 497.4,228.1 497.4,227.5 497.3,226.9 497.2,226.3 497.2,225.7 497.1,225.1 497.0,224.5 496.9,223.9 496.8,223.3 496.7,222.7 496.6,222.1 496.6,221.5 496.6,220.9 496.6,220.3 496.6,219.7 496.6,219.1 496.6,218.5 496.6,217.9 496.5,217.3 496.5,216.7 496.5,216.1 496.5,215.5 496.5,214.9 496.5,214.3 496.5,213.7 496.5,213.1 496.5,212.5 496.5,211.9 496.5,211.3 496.5,210.7 496.5,210.1 496.5,209.5 496.5,208.9 496.5,208.3 496.5,207.7 496.5,207.1 496.4,206.5 496.4,205.9 496.4,205.3 496.3,204.7 496.1,204.1 495.9,203.5 495.7,202.9 495.4,202.3 495.1,201.7 494.8,201.1 494.4,200.5 493.9,199.9 493.4,199.3 492.8,198.7 492.3,198.1 491.7,197.5 491.2,196.9 490.8,196.3 490.3,195.7 489.7,195.1 489.2,194.5 488.7,193.9 488.2,193.3 487.8,192.7 487.5,192.1 487.3,191.5 487.2,190.9 487.3,190.3 487.4,189.7 487.7,189.1 488.0,188.5 488.4,187.9 488.8,187.3 489.2,186.7 489.7,186.1 490.1,185.5 490.5,184.9 491.0,184.3 491.6,183.7 492.2,183.1 492.8,182.5 493.4,181.9 493.9,181.3 494.4,180.7 494.9,180.1 495.3,179.5 495.7,178.9 496.0,178.3 496.4,177.7 496.7,177.1 497.0,176.5 497.2,175.9 497.4,175.3 497.4,174.7 497.5,174.1 497.5,173.5 497.5,172.9 497.5,172.3 497.6,171.7 497.6,171.1 497.6,170.5 497.6,169.9 497.6,169.3 497.6,168.7 497.6,168.1 497.6,167.5 497.6,166.9 497.6,166.3 497.6,165.7 497.6,165.1 497.6,164.5 497.6,163.9 497.6,163.3 497.6,162.7 497.7,162.1 497.7,161.5 497.7,160.9 497.7,160.3 497.7,159.7 497.7,159.1 497.7,158.5 497.7,157.9 497.7,157.3 497.7,156.7 497.7,156.1 497.7,155.5 497.7,154.9 497.7,154.3 497.7,153.7 497.7,153.1 497.7,152.5 497.7,151.9 497.7,151.3 497.7,150.7 497.7,150.1 497.7,149.5 497.7,148.9 497.7,148.3 497.7,147.7 497.7,147.1 497.7,146.5 497.7,145.9 497.7,145.3 497.7,144.7 497.8,144.1 497.8,143.5 497.8,142.9 497.8,142.3 497.8,141.7 497.8,141.1 497.8,140.5 497.8,139.9 497.8,139.3 497.8,138.7 497.8,138.1 497.8,137.5 497.8,136.9 497.9,136.3 497.9,135.7 497.9,135.1 497.9,134.5 497.9,133.9 497.9,133.3 497.9,132.7 497.9,132.1 497.9,131.5 497.9,130.9 498.0,130.3 498.0,129.7 498.0,129.1 498.0,128.5 498.0,127.9Z" fill="#9dcf76" stroke="#30372e" stroke-width="1.65" stroke-linejoin="round"/>
<path d="M498.0,136.9L501.0,139.3L498.0,141.7L495.0,139.3ZM498.0,144.2L501.0,146.6L498.0,149.0L495.0,146.6ZM498.0,176.8L501.0,179.2L498.0,181.6L495.0,179.2ZM498.0,179.8L501.0,182.2L498.0,184.6L495.0,182.2ZM498.0,182.8L501.0,185.2L498.0,187.6L495.0,185.2ZM498.0,185.8L501.0,188.2L498.0,190.6L495.0,188.2ZM498.0,188.7L501.0,191.1L498.0,193.5L495.0,191.1ZM498.0,191.7L501.0,194.1L498.0,196.5L495.0,194.1ZM498.0,194.7L501.0,197.1L498.0,199.5L495.0,197.1ZM498.0,197.7L501.0,200.1L498.0,202.5L495.0,200.1ZM498.0,201.2L501.0,203.6L498.0,206.0L495.0,203.6ZM498.0,206.9L501.0,209.3L498.0,211.7L495.0,209.3ZM498.0,219.6L501.0,222.0L498.0,224.4L495.0,222.0Z" fill="#1a5a2e" stroke="#091f10" stroke-width="0.9" stroke-linejoin="miter"/>
<path d="M52,6.6H512.5V376H52Z" fill="none" stroke="#111" stroke-width="1.7"/>
<path d="M45,6.60H52M505.5,6.60H512.5M45,28.37H52M505.5,28.37H512.5M45,50.13H52M505.5,50.13H512.5M45,71.89H52M505.5,71.89H512.5M45,117.16H52M505.5,117.16H512.5M45,154.23H52M505.5,154.23H512.5M45,191.30H52M505.5,191.30H512.5M45,228.37H52M505.5,228.37H512.5M45,265.44H52M505.5,265.44H512.5M45,302.51H52M505.5,302.51H512.5M45,335.40H52M505.5,335.40H512.5M48.4,17.48H52M508.9,17.48H512.5M48.4,39.25H52M508.9,39.25H512.5M48.4,61.01H52M508.9,61.01H512.5M48.4,98.63H52M508.9,98.63H512.5M48.4,135.69H52M508.9,135.69H512.5M48.4,172.77H52M508.9,172.77H512.5M48.4,209.84H52M508.9,209.84H512.5M48.4,246.91H52M508.9,246.91H512.5M48.4,283.98H52M508.9,283.98H512.5M48.4,376.52H52M508.9,376.52H512.5M66.00,6.6V13.6M66.00,376V383.5M94.80,6.6V13.6M94.80,376V383.5M123.60,6.6V13.6M123.60,376V383.5M152.40,6.6V13.6M152.40,376V383.5M181.20,6.6V13.6M181.20,376V383.5M210.00,6.6V13.6M210.00,376V383.5M238.80,6.6V13.6M238.80,376V383.5M267.60,6.6V13.6M267.60,376V383.5M296.40,6.6V13.6M296.40,376V383.5M325.20,6.6V13.6M325.20,376V383.5M354.00,6.6V13.6M354.00,376V383.5M382.80,6.6V13.6M382.80,376V383.5M411.60,6.6V13.6M411.60,376V383.5M440.40,6.6V13.6M440.40,376V383.5M469.20,6.6V13.6M469.20,376V383.5M498.00,6.6V13.6M498.00,376V383.5" stroke="#111" stroke-width="1.7" fill="none"/>
<path d="M44.5,83.6L59.5,77.4" stroke="#111" stroke-width="1.5"/>
<path d="M505.0,83.6L520.0,77.4" stroke="#111" stroke-width="1.5"/>
<path d="M44.5,305.6L59.5,299.4" stroke="#111" stroke-width="1.5"/>
<path d="M505.0,305.6L520.0,299.4" stroke="#111" stroke-width="1.5"/>
<g font-family="Liberation Sans, Arial, sans-serif" stroke="#000" stroke-width="0.3" font-size="15.6" fill="#000" text-anchor="end">
<text x="39.4" y="11.55">20</text>
<text x="39.4" y="33.32">15</text>
<text x="39.4" y="55.08">10</text>
<text x="39.4" y="76.84">5</text>
<text x="39.4" y="122.11">2</text>
<text x="39.4" y="159.18">1</text>
<text x="39.4" y="196.25">0</text>
<text x="39.4" y="233.32">-1</text>
<text x="39.4" y="270.39">-2</text>
<text x="39.4" y="307.46">-3</text>
<text x="39.4" y="340.35">-5</text>
</g>
<g font-family="Liberation Sans, Arial, sans-serif" stroke="#000" stroke-width="0.3" font-size="15.6" fill="#000" text-anchor="end">
<text transform="translate(77.50,400.70) rotate(-45)">NOTCH</text>
<text transform="translate(106.30,400.70) rotate(-45)">NOTCH+p</text>
<text transform="translate(135.10,400.70) rotate(-45)">NOTCH a</text>
<text transform="translate(163.90,400.70) rotate(-45)">NOTCH b</text>
<text transform="translate(192.70,400.70) rotate(-45)">NOTCH c</text>
<text transform="translate(221.50,400.70) rotate(-45)">NOTCH d</text>
<text transform="translate(250.30,400.70) rotate(-45)">NOTCH e</text>
<text transform="translate(279.10,400.70) rotate(-45)">NOTCH f</text>
<text transform="translate(307.90,400.70) rotate(-45)">PM3</text>
<text transform="translate(336.70,400.70) rotate(-45)">PM7</text>
<text transform="translate(365.50,400.70) rotate(-45)">OM2</text>
<text transform="translate(394.30,400.70) rotate(-45)">OM3</text>
<text transform="translate(423.10,400.70) rotate(-45)">GFN-xTB</text>
<text transform="translate(451.90,400.70) rotate(-45)">GFN2-xTB</text>
<text transform="translate(480.70,400.70) rotate(-45)">HF-3c</text>
<text transform="translate(509.50,400.70) rotate(-45)">B3LYP</text>
</g>
<text font-family="Liberation Sans, Arial, sans-serif" stroke="#000" stroke-width="0.3" font-size="19.3" text-anchor="middle" transform="translate(14.6,191.25) rotate(-90)">Dipole moment error (Debye)</text>
<g font-family="Liberation Sans, Arial, sans-serif" stroke="#000" stroke-width="0.3" font-size="13.8" fill="#000">
<text x="58.8" y="124">BO</text>
<text x="88" y="133">BF</text>
<text x="98.6" y="111.0">BO</text>
<text x="54" y="267">BeB</text>
<text x="87" y="267">LiF</text>
<text x="111" y="279.5">CO</text>
<text x="202" y="144.6">CN</text>
<text x="200.5" y="268.5">LiF</text>
<text x="258.4" y="105.2">BC</text>
<text x="271" y="283.5">HB</text>
<text x="289.5" y="28.8">NNe</text>
<text x="331" y="40">FNe</text>
<text x="334.5" y="320.5">BF</text>
<text x="398" y="68.5">BeC</text>
<text x="431.2" y="66.8">BeB</text>
<text x="477" y="121.8">BeC</text>
<text x="378.8" y="297">LiBe</text>
<text x="426.7" y="302.2">LiBe</text>
<text x="437.5" y="330.7">LiBe</text>
</g>
</svg></body></html>
